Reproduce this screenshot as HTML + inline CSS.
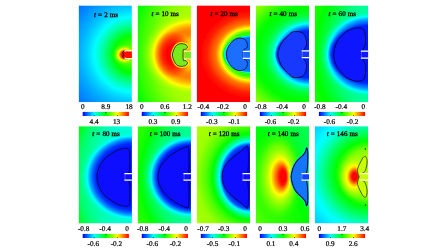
<!DOCTYPE html>
<html><head><meta charset="utf-8"><title>figure</title>
<style>
html,body{margin:0;padding:0;background:#fff;}
body{width:448px;height:252px;overflow:hidden;}
svg{display:block;}
text{text-rendering:geometricPrecision;}
.t{font-family:"Liberation Serif",serif;font-size:7.05px;word-spacing:0.3px;fill:#000;stroke:#000;stroke-width:0.3px;}
.l{font-family:"Liberation Serif",serif;font-size:7.25px;fill:#000;stroke:#000;stroke-width:0.22px;}
</style></head><body>
<svg width="448" height="252" viewBox="0 0 448 252">
<defs>
<filter id="soft" x="0" y="0" width="448" height="252" filterUnits="userSpaceOnUse"><feGaussianBlur stdDeviation="0.4"/></filter>
<clipPath id="c0"><rect x="78.60" y="5.40" width="53.30" height="96.80"/></clipPath>
<radialGradient id="g1" gradientUnits="userSpaceOnUse" cx="0" cy="0" fx="0.00" fy="0" r="85.00" gradientTransform="translate(131.90 54.30) rotate(0.00) scale(1.0000 1.0000)"><stop offset="0.0000" stop-color="#66ff00"/><stop offset="0.0208" stop-color="#61ff00"/><stop offset="0.0417" stop-color="#5dff00"/><stop offset="0.0625" stop-color="#58ff00"/><stop offset="0.0833" stop-color="#54ff00"/><stop offset="0.0941" stop-color="#52ff00"/><stop offset="0.1042" stop-color="#4bff00"/><stop offset="0.1250" stop-color="#3cff00"/><stop offset="0.1458" stop-color="#2eff00"/><stop offset="0.1529" stop-color="#29ff00"/><stop offset="0.1667" stop-color="#20ff00"/><stop offset="0.1875" stop-color="#13ff00"/><stop offset="0.2083" stop-color="#06ff00"/><stop offset="0.2176" stop-color="#00ff00"/><stop offset="0.2292" stop-color="#00ff11"/><stop offset="0.2500" stop-color="#00ff30"/><stop offset="0.2588" stop-color="#00ff3d"/><stop offset="0.2708" stop-color="#00ff4b"/><stop offset="0.2917" stop-color="#00ff62"/><stop offset="0.3125" stop-color="#00ff7a"/><stop offset="0.3176" stop-color="#00ff80"/><stop offset="0.3333" stop-color="#00ff91"/><stop offset="0.3542" stop-color="#00ffa9"/><stop offset="0.3750" stop-color="#00ffc0"/><stop offset="0.3765" stop-color="#00ffc2"/><stop offset="0.3958" stop-color="#00ffd4"/><stop offset="0.4167" stop-color="#00ffe8"/><stop offset="0.4375" stop-color="#00fffc"/><stop offset="0.4412" stop-color="#00ffff"/><stop offset="0.4583" stop-color="#00f6ff"/><stop offset="0.4792" stop-color="#00ebff"/><stop offset="0.5000" stop-color="#00e0ff"/><stop offset="0.5208" stop-color="#00d6ff"/><stop offset="0.5294" stop-color="#00d1ff"/><stop offset="0.5417" stop-color="#00ccff"/><stop offset="0.5625" stop-color="#00c4ff"/><stop offset="0.5833" stop-color="#00bcff"/><stop offset="0.6042" stop-color="#00b4ff"/><stop offset="0.6250" stop-color="#00acff"/><stop offset="0.6282" stop-color="#00aaff"/><stop offset="0.6458" stop-color="#00a6ff"/><stop offset="0.6667" stop-color="#00a0ff"/><stop offset="0.6875" stop-color="#009aff"/><stop offset="0.7083" stop-color="#0095ff"/><stop offset="0.7292" stop-color="#008fff"/><stop offset="0.7294" stop-color="#008fff"/><stop offset="0.7500" stop-color="#0089ff"/><stop offset="0.7708" stop-color="#0084ff"/><stop offset="0.7917" stop-color="#007fff"/><stop offset="0.8125" stop-color="#0079ff"/><stop offset="0.8333" stop-color="#0074ff"/><stop offset="0.8471" stop-color="#0070ff"/><stop offset="0.8542" stop-color="#006fff"/><stop offset="0.8750" stop-color="#006cff"/><stop offset="0.8958" stop-color="#006aff"/><stop offset="0.9167" stop-color="#0067ff"/><stop offset="0.9375" stop-color="#0064ff"/><stop offset="0.9583" stop-color="#0061ff"/><stop offset="0.9792" stop-color="#005fff"/><stop offset="1.0000" stop-color="#005cff"/></radialGradient>
<radialGradient id="g2" gradientUnits="userSpaceOnUse" cx="0" cy="0" fx="0.00" fy="0" r="11.00" gradientTransform="translate(124.70 54.70) rotate(0.00) scale(1.1500 1.0000)"><stop offset="0.0000" stop-color="#ff0000" stop-opacity="1.000"/><stop offset="0.0208" stop-color="#ff0000" stop-opacity="1.000"/><stop offset="0.0417" stop-color="#ff0000" stop-opacity="1.000"/><stop offset="0.0625" stop-color="#ff0000" stop-opacity="1.000"/><stop offset="0.0833" stop-color="#ff0000" stop-opacity="1.000"/><stop offset="0.1042" stop-color="#ff0000" stop-opacity="1.000"/><stop offset="0.1250" stop-color="#ff0000" stop-opacity="1.000"/><stop offset="0.1458" stop-color="#ff0000" stop-opacity="1.000"/><stop offset="0.1667" stop-color="#ff0000" stop-opacity="1.000"/><stop offset="0.1875" stop-color="#ff0000" stop-opacity="1.000"/><stop offset="0.2083" stop-color="#ff0000" stop-opacity="1.000"/><stop offset="0.2273" stop-color="#ff0000" stop-opacity="1.000"/><stop offset="0.2292" stop-color="#ff0100" stop-opacity="1.000"/><stop offset="0.2500" stop-color="#ff1100" stop-opacity="1.000"/><stop offset="0.2708" stop-color="#ff2100" stop-opacity="1.000"/><stop offset="0.2917" stop-color="#ff3000" stop-opacity="1.000"/><stop offset="0.3125" stop-color="#ff4000" stop-opacity="1.000"/><stop offset="0.3333" stop-color="#ff4f00" stop-opacity="1.000"/><stop offset="0.3542" stop-color="#ff5f00" stop-opacity="1.000"/><stop offset="0.3636" stop-color="#ff6600" stop-opacity="1.000"/><stop offset="0.3750" stop-color="#ff7200" stop-opacity="1.000"/><stop offset="0.3958" stop-color="#ff8800" stop-opacity="1.000"/><stop offset="0.4167" stop-color="#ff9e00" stop-opacity="1.000"/><stop offset="0.4375" stop-color="#ffb400" stop-opacity="1.000"/><stop offset="0.4583" stop-color="#ffca00" stop-opacity="1.000"/><stop offset="0.4792" stop-color="#ffe000" stop-opacity="1.000"/><stop offset="0.5000" stop-color="#fff500" stop-opacity="1.000"/><stop offset="0.5091" stop-color="#ffff00" stop-opacity="1.000"/><stop offset="0.5208" stop-color="#f9ff00" stop-opacity="1.000"/><stop offset="0.5417" stop-color="#eeff00" stop-opacity="1.000"/><stop offset="0.5625" stop-color="#e4ff00" stop-opacity="1.000"/><stop offset="0.5833" stop-color="#d9ff00" stop-opacity="1.000"/><stop offset="0.6042" stop-color="#ceff00" stop-opacity="0.968"/><stop offset="0.6250" stop-color="#c3ff00" stop-opacity="0.917"/><stop offset="0.6458" stop-color="#b9ff00" stop-opacity="0.866"/><stop offset="0.6667" stop-color="#aeff00" stop-opacity="0.815"/><stop offset="0.6875" stop-color="#a3ff00" stop-opacity="0.764"/><stop offset="0.7083" stop-color="#99ff00" stop-opacity="0.713"/><stop offset="0.7273" stop-color="#8fff00" stop-opacity="0.667"/><stop offset="0.7292" stop-color="#8eff00" stop-opacity="0.662"/><stop offset="0.7500" stop-color="#89ff00" stop-opacity="0.611"/><stop offset="0.7708" stop-color="#83ff00" stop-opacity="0.560"/><stop offset="0.7917" stop-color="#7eff00" stop-opacity="0.509"/><stop offset="0.8125" stop-color="#78ff00" stop-opacity="0.458"/><stop offset="0.8333" stop-color="#73ff00" stop-opacity="0.407"/><stop offset="0.8542" stop-color="#6eff00" stop-opacity="0.356"/><stop offset="0.8750" stop-color="#68ff00" stop-opacity="0.306"/><stop offset="0.8958" stop-color="#63ff00" stop-opacity="0.255"/><stop offset="0.9167" stop-color="#5dff00" stop-opacity="0.204"/><stop offset="0.9375" stop-color="#58ff00" stop-opacity="0.153"/><stop offset="0.9583" stop-color="#52ff00" stop-opacity="0.102"/><stop offset="0.9792" stop-color="#4dff00" stop-opacity="0.051"/><stop offset="1.0000" stop-color="#47ff00" stop-opacity="0.000"/></radialGradient>
<clipPath id="c1"><rect x="137.65" y="5.40" width="53.30" height="96.80"/></clipPath>
<radialGradient id="g3" gradientUnits="userSpaceOnUse" cx="0" cy="0" fx="0.00" fy="0" r="90.00" gradientTransform="translate(190.95 54.30) rotate(0.00) scale(1.0000 1.5000)"><stop offset="0.0000" stop-color="#ffcc00"/><stop offset="0.0208" stop-color="#ffd300"/><stop offset="0.0417" stop-color="#ffda00"/><stop offset="0.0625" stop-color="#ffe100"/><stop offset="0.0833" stop-color="#ffe800"/><stop offset="0.1042" stop-color="#ffef00"/><stop offset="0.1250" stop-color="#fff600"/><stop offset="0.1458" stop-color="#fffd00"/><stop offset="0.1667" stop-color="#faff00"/><stop offset="0.1875" stop-color="#f3ff00"/><stop offset="0.2083" stop-color="#ecff00"/><stop offset="0.2292" stop-color="#e5ff00"/><stop offset="0.2444" stop-color="#e0ff00"/><stop offset="0.2500" stop-color="#dbff00"/><stop offset="0.2708" stop-color="#c8ff00"/><stop offset="0.2889" stop-color="#b8ff00"/><stop offset="0.2917" stop-color="#b7ff00"/><stop offset="0.3125" stop-color="#afff00"/><stop offset="0.3333" stop-color="#a7ff00"/><stop offset="0.3542" stop-color="#9fff00"/><stop offset="0.3556" stop-color="#9eff00"/><stop offset="0.3750" stop-color="#94ff00"/><stop offset="0.3958" stop-color="#89ff00"/><stop offset="0.4167" stop-color="#7fff00"/><stop offset="0.4375" stop-color="#74ff00"/><stop offset="0.4444" stop-color="#70ff00"/><stop offset="0.4583" stop-color="#69ff00"/><stop offset="0.4792" stop-color="#5eff00"/><stop offset="0.5000" stop-color="#52ff00"/><stop offset="0.5111" stop-color="#4cff00"/><stop offset="0.5208" stop-color="#48ff00"/><stop offset="0.5417" stop-color="#3eff00"/><stop offset="0.5625" stop-color="#35ff00"/><stop offset="0.5833" stop-color="#2bff00"/><stop offset="0.5889" stop-color="#29ff00"/><stop offset="0.6042" stop-color="#21ff00"/><stop offset="0.6250" stop-color="#16ff00"/><stop offset="0.6458" stop-color="#0cff00"/><stop offset="0.6667" stop-color="#01ff00"/><stop offset="0.6875" stop-color="#00ff09"/><stop offset="0.6889" stop-color="#00ff0a"/><stop offset="0.7083" stop-color="#00ff0e"/><stop offset="0.7292" stop-color="#00ff13"/><stop offset="0.7500" stop-color="#00ff17"/><stop offset="0.7708" stop-color="#00ff1c"/><stop offset="0.7917" stop-color="#00ff20"/><stop offset="0.8125" stop-color="#00ff24"/><stop offset="0.8333" stop-color="#00ff29"/><stop offset="0.8542" stop-color="#00ff2b"/><stop offset="0.8750" stop-color="#00ff2e"/><stop offset="0.8958" stop-color="#00ff30"/><stop offset="0.9167" stop-color="#00ff33"/><stop offset="0.9375" stop-color="#00ff36"/><stop offset="0.9583" stop-color="#00ff38"/><stop offset="0.9792" stop-color="#00ff3b"/><stop offset="1.0000" stop-color="#00ff3d"/></radialGradient>
<radialGradient id="g4" gradientUnits="userSpaceOnUse" cx="0" cy="0" fx="0.00" fy="0" r="50.00" gradientTransform="translate(190.95 54.30) rotate(0.00) scale(1.0000 0.8700)"><stop offset="0.0000" stop-color="#ffe000" stop-opacity="1.000"/><stop offset="0.0208" stop-color="#ffe000" stop-opacity="1.000"/><stop offset="0.0417" stop-color="#ffdf00" stop-opacity="1.000"/><stop offset="0.0625" stop-color="#ffde00" stop-opacity="1.000"/><stop offset="0.0833" stop-color="#ffdd00" stop-opacity="1.000"/><stop offset="0.1042" stop-color="#ffdc00" stop-opacity="1.000"/><stop offset="0.1250" stop-color="#ffdb00" stop-opacity="1.000"/><stop offset="0.1458" stop-color="#ffda00" stop-opacity="1.000"/><stop offset="0.1667" stop-color="#ffd900" stop-opacity="1.000"/><stop offset="0.1875" stop-color="#ffd800" stop-opacity="1.000"/><stop offset="0.2083" stop-color="#ffd800" stop-opacity="1.000"/><stop offset="0.2292" stop-color="#ffd700" stop-opacity="1.000"/><stop offset="0.2400" stop-color="#ffd600" stop-opacity="1.000"/><stop offset="0.2500" stop-color="#ffd300" stop-opacity="1.000"/><stop offset="0.2708" stop-color="#ffcd00" stop-opacity="1.000"/><stop offset="0.2917" stop-color="#ffc600" stop-opacity="1.000"/><stop offset="0.3125" stop-color="#ffc000" stop-opacity="1.000"/><stop offset="0.3333" stop-color="#ffba00" stop-opacity="1.000"/><stop offset="0.3400" stop-color="#ffb800" stop-opacity="1.000"/><stop offset="0.3542" stop-color="#ffb000" stop-opacity="1.000"/><stop offset="0.3750" stop-color="#ffa600" stop-opacity="1.000"/><stop offset="0.3958" stop-color="#ff9b00" stop-opacity="1.000"/><stop offset="0.4167" stop-color="#ff9100" stop-opacity="1.000"/><stop offset="0.4375" stop-color="#ff8600" stop-opacity="1.000"/><stop offset="0.4400" stop-color="#ff8500" stop-opacity="1.000"/><stop offset="0.4583" stop-color="#ff8400" stop-opacity="1.000"/><stop offset="0.4792" stop-color="#ff8300" stop-opacity="1.000"/><stop offset="0.5000" stop-color="#ff8200" stop-opacity="1.000"/><stop offset="0.5208" stop-color="#ff8000" stop-opacity="1.000"/><stop offset="0.5400" stop-color="#ff8000" stop-opacity="1.000"/><stop offset="0.5417" stop-color="#ff8000" stop-opacity="1.000"/><stop offset="0.5625" stop-color="#ff8a00" stop-opacity="1.000"/><stop offset="0.5833" stop-color="#ff9300" stop-opacity="1.000"/><stop offset="0.6042" stop-color="#ff9c00" stop-opacity="1.000"/><stop offset="0.6200" stop-color="#ffa300" stop-opacity="1.000"/><stop offset="0.6250" stop-color="#ffa700" stop-opacity="1.000"/><stop offset="0.6458" stop-color="#ffb500" stop-opacity="1.000"/><stop offset="0.6667" stop-color="#ffc300" stop-opacity="1.000"/><stop offset="0.6800" stop-color="#ffcc00" stop-opacity="1.000"/><stop offset="0.6875" stop-color="#ffd100" stop-opacity="1.000"/><stop offset="0.7083" stop-color="#ffe100" stop-opacity="1.000"/><stop offset="0.7292" stop-color="#fff000" stop-opacity="1.000"/><stop offset="0.7500" stop-color="#ffff00" stop-opacity="1.000"/><stop offset="0.7708" stop-color="#eeff00" stop-opacity="0.917"/><stop offset="0.7917" stop-color="#deff00" stop-opacity="0.833"/><stop offset="0.8125" stop-color="#cdff00" stop-opacity="0.750"/><stop offset="0.8333" stop-color="#bdff00" stop-opacity="0.667"/><stop offset="0.8400" stop-color="#b8ff00" stop-opacity="0.640"/><stop offset="0.8542" stop-color="#b0ff00" stop-opacity="0.583"/><stop offset="0.8750" stop-color="#a6ff00" stop-opacity="0.500"/><stop offset="0.8958" stop-color="#9bff00" stop-opacity="0.417"/><stop offset="0.9167" stop-color="#90ff00" stop-opacity="0.333"/><stop offset="0.9375" stop-color="#86ff00" stop-opacity="0.250"/><stop offset="0.9583" stop-color="#7bff00" stop-opacity="0.167"/><stop offset="0.9792" stop-color="#71ff00" stop-opacity="0.083"/><stop offset="1.0000" stop-color="#66ff00" stop-opacity="0.000"/></radialGradient>
<radialGradient id="g5" gradientUnits="userSpaceOnUse" cx="0" cy="0" fx="0.00" fy="0" r="17.00" gradientTransform="translate(172.95 54.30) rotate(0.00) scale(1.1000 1.4000)"><stop offset="0.0000" stop-color="#ff0000" stop-opacity="1.000"/><stop offset="0.0208" stop-color="#ff0000" stop-opacity="1.000"/><stop offset="0.0417" stop-color="#ff0000" stop-opacity="1.000"/><stop offset="0.0625" stop-color="#ff0000" stop-opacity="1.000"/><stop offset="0.0833" stop-color="#ff0000" stop-opacity="1.000"/><stop offset="0.1042" stop-color="#ff0000" stop-opacity="1.000"/><stop offset="0.1250" stop-color="#ff0000" stop-opacity="1.000"/><stop offset="0.1458" stop-color="#ff0000" stop-opacity="1.000"/><stop offset="0.1667" stop-color="#ff0000" stop-opacity="1.000"/><stop offset="0.1875" stop-color="#ff0000" stop-opacity="1.000"/><stop offset="0.2083" stop-color="#ff0000" stop-opacity="1.000"/><stop offset="0.2292" stop-color="#ff0000" stop-opacity="1.000"/><stop offset="0.2500" stop-color="#ff0000" stop-opacity="1.000"/><stop offset="0.2708" stop-color="#ff0000" stop-opacity="1.000"/><stop offset="0.2917" stop-color="#ff0000" stop-opacity="1.000"/><stop offset="0.3125" stop-color="#ff0000" stop-opacity="1.000"/><stop offset="0.3333" stop-color="#ff0000" stop-opacity="1.000"/><stop offset="0.3542" stop-color="#ff0000" stop-opacity="0.998"/><stop offset="0.3750" stop-color="#ff0000" stop-opacity="0.972"/><stop offset="0.3958" stop-color="#ff0000" stop-opacity="0.945"/><stop offset="0.4167" stop-color="#ff0000" stop-opacity="0.919"/><stop offset="0.4375" stop-color="#ff0000" stop-opacity="0.892"/><stop offset="0.4583" stop-color="#ff0000" stop-opacity="0.866"/><stop offset="0.4792" stop-color="#ff0000" stop-opacity="0.839"/><stop offset="0.5000" stop-color="#ff0000" stop-opacity="0.812"/><stop offset="0.5208" stop-color="#ff0000" stop-opacity="0.786"/><stop offset="0.5417" stop-color="#ff0000" stop-opacity="0.759"/><stop offset="0.5625" stop-color="#ff0000" stop-opacity="0.733"/><stop offset="0.5833" stop-color="#ff0000" stop-opacity="0.706"/><stop offset="0.6042" stop-color="#ff0000" stop-opacity="0.673"/><stop offset="0.6250" stop-color="#ff0000" stop-opacity="0.637"/><stop offset="0.6458" stop-color="#ff0000" stop-opacity="0.602"/><stop offset="0.6667" stop-color="#ff0000" stop-opacity="0.567"/><stop offset="0.6875" stop-color="#ff0000" stop-opacity="0.531"/><stop offset="0.7083" stop-color="#ff0000" stop-opacity="0.496"/><stop offset="0.7292" stop-color="#ff0000" stop-opacity="0.460"/><stop offset="0.7500" stop-color="#ff0000" stop-opacity="0.425"/><stop offset="0.7708" stop-color="#ff0000" stop-opacity="0.390"/><stop offset="0.7917" stop-color="#ff0000" stop-opacity="0.354"/><stop offset="0.8125" stop-color="#ff0000" stop-opacity="0.319"/><stop offset="0.8333" stop-color="#ff0000" stop-opacity="0.283"/><stop offset="0.8542" stop-color="#ff0000" stop-opacity="0.248"/><stop offset="0.8750" stop-color="#ff0000" stop-opacity="0.213"/><stop offset="0.8958" stop-color="#ff0000" stop-opacity="0.177"/><stop offset="0.9167" stop-color="#ff0000" stop-opacity="0.142"/><stop offset="0.9375" stop-color="#ff0000" stop-opacity="0.106"/><stop offset="0.9583" stop-color="#ff0000" stop-opacity="0.071"/><stop offset="0.9792" stop-color="#ff0000" stop-opacity="0.035"/><stop offset="1.0000" stop-color="#ff0000" stop-opacity="0.000"/></radialGradient>
<clipPath id="c2"><rect x="196.70" y="5.40" width="53.30" height="96.80"/></clipPath>
<radialGradient id="g6" gradientUnits="userSpaceOnUse" cx="0" cy="0" fx="0.00" fy="0" r="90.00" gradientTransform="translate(250.00 54.30) rotate(0.00) scale(1.0000 0.8860)"><stop offset="0.0000" stop-color="#00ff00"/><stop offset="0.0208" stop-color="#00ff00"/><stop offset="0.0417" stop-color="#00ff00"/><stop offset="0.0625" stop-color="#00ff00"/><stop offset="0.0833" stop-color="#00ff00"/><stop offset="0.1042" stop-color="#00ff00"/><stop offset="0.1250" stop-color="#00ff00"/><stop offset="0.1458" stop-color="#00ff00"/><stop offset="0.1667" stop-color="#00ff00"/><stop offset="0.1875" stop-color="#00ff00"/><stop offset="0.2083" stop-color="#00ff00"/><stop offset="0.2292" stop-color="#00ff00"/><stop offset="0.2444" stop-color="#00ff00"/><stop offset="0.2500" stop-color="#0aff00"/><stop offset="0.2708" stop-color="#30ff00"/><stop offset="0.2722" stop-color="#33ff00"/><stop offset="0.2917" stop-color="#7aff00"/><stop offset="0.3000" stop-color="#99ff00"/><stop offset="0.3125" stop-color="#cdff00"/><stop offset="0.3244" stop-color="#ffff00"/><stop offset="0.3333" stop-color="#ffe900"/><stop offset="0.3542" stop-color="#ffb500"/><stop offset="0.3750" stop-color="#ff8100"/><stop offset="0.3778" stop-color="#ff7a00"/><stop offset="0.3958" stop-color="#ff6a00"/><stop offset="0.4167" stop-color="#ff5700"/><stop offset="0.4375" stop-color="#ff4400"/><stop offset="0.4583" stop-color="#ff3000"/><stop offset="0.4778" stop-color="#ff1f00"/><stop offset="0.4792" stop-color="#ff1e00"/><stop offset="0.5000" stop-color="#ff1600"/><stop offset="0.5208" stop-color="#ff0e00"/><stop offset="0.5417" stop-color="#ff0500"/><stop offset="0.5556" stop-color="#ff0000"/><stop offset="0.5625" stop-color="#ff0000"/><stop offset="0.5833" stop-color="#ff0000"/><stop offset="0.6042" stop-color="#ff0000"/><stop offset="0.6250" stop-color="#ff0000"/><stop offset="0.6458" stop-color="#ff0000"/><stop offset="0.6667" stop-color="#ff0000"/><stop offset="0.6875" stop-color="#ff0000"/><stop offset="0.7083" stop-color="#ff0000"/><stop offset="0.7292" stop-color="#ff0000"/><stop offset="0.7500" stop-color="#ff0000"/><stop offset="0.7708" stop-color="#ff0000"/><stop offset="0.7917" stop-color="#ff0000"/><stop offset="0.8125" stop-color="#ff0000"/><stop offset="0.8333" stop-color="#ff0000"/><stop offset="0.8542" stop-color="#ff0000"/><stop offset="0.8750" stop-color="#ff0000"/><stop offset="0.8958" stop-color="#ff0000"/><stop offset="0.9167" stop-color="#ff0000"/><stop offset="0.9375" stop-color="#ff0000"/><stop offset="0.9583" stop-color="#ff0000"/><stop offset="0.9792" stop-color="#ff0000"/><stop offset="1.0000" stop-color="#ff0000"/></radialGradient>
<radialGradient id="g7" gradientUnits="userSpaceOnUse" cx="0" cy="0" fx="0.00" fy="0" r="28.50" gradientTransform="translate(250.00 54.30) rotate(0.00) scale(1.0000 0.7200)"><stop offset="0.0000" stop-color="#0066ff" stop-opacity="1.000"/><stop offset="0.0208" stop-color="#0067ff" stop-opacity="1.000"/><stop offset="0.0417" stop-color="#0067ff" stop-opacity="1.000"/><stop offset="0.0625" stop-color="#0068ff" stop-opacity="1.000"/><stop offset="0.0833" stop-color="#0068ff" stop-opacity="1.000"/><stop offset="0.1042" stop-color="#0069ff" stop-opacity="1.000"/><stop offset="0.1250" stop-color="#0069ff" stop-opacity="1.000"/><stop offset="0.1458" stop-color="#006aff" stop-opacity="1.000"/><stop offset="0.1667" stop-color="#006aff" stop-opacity="1.000"/><stop offset="0.1875" stop-color="#006bff" stop-opacity="1.000"/><stop offset="0.2083" stop-color="#006bff" stop-opacity="1.000"/><stop offset="0.2292" stop-color="#006cff" stop-opacity="1.000"/><stop offset="0.2500" stop-color="#006cff" stop-opacity="1.000"/><stop offset="0.2708" stop-color="#006dff" stop-opacity="1.000"/><stop offset="0.2917" stop-color="#006dff" stop-opacity="1.000"/><stop offset="0.3125" stop-color="#006eff" stop-opacity="1.000"/><stop offset="0.3333" stop-color="#006eff" stop-opacity="1.000"/><stop offset="0.3542" stop-color="#006fff" stop-opacity="1.000"/><stop offset="0.3750" stop-color="#006fff" stop-opacity="1.000"/><stop offset="0.3958" stop-color="#0070ff" stop-opacity="1.000"/><stop offset="0.4167" stop-color="#0070ff" stop-opacity="1.000"/><stop offset="0.4375" stop-color="#0071ff" stop-opacity="1.000"/><stop offset="0.4583" stop-color="#0071ff" stop-opacity="1.000"/><stop offset="0.4792" stop-color="#0072ff" stop-opacity="1.000"/><stop offset="0.5000" stop-color="#0072ff" stop-opacity="1.000"/><stop offset="0.5208" stop-color="#0073ff" stop-opacity="1.000"/><stop offset="0.5417" stop-color="#0073ff" stop-opacity="1.000"/><stop offset="0.5625" stop-color="#0074ff" stop-opacity="1.000"/><stop offset="0.5833" stop-color="#0074ff" stop-opacity="1.000"/><stop offset="0.6042" stop-color="#0075ff" stop-opacity="1.000"/><stop offset="0.6250" stop-color="#0075ff" stop-opacity="1.000"/><stop offset="0.6458" stop-color="#0076ff" stop-opacity="1.000"/><stop offset="0.6667" stop-color="#0076ff" stop-opacity="1.000"/><stop offset="0.6875" stop-color="#0077ff" stop-opacity="1.000"/><stop offset="0.7083" stop-color="#0078ff" stop-opacity="1.000"/><stop offset="0.7292" stop-color="#0078ff" stop-opacity="1.000"/><stop offset="0.7500" stop-color="#0079ff" stop-opacity="1.000"/><stop offset="0.7708" stop-color="#0079ff" stop-opacity="1.000"/><stop offset="0.7917" stop-color="#007aff" stop-opacity="1.000"/><stop offset="0.8125" stop-color="#007aff" stop-opacity="1.000"/><stop offset="0.8246" stop-color="#007aff" stop-opacity="1.000"/><stop offset="0.8333" stop-color="#008eff" stop-opacity="1.000"/><stop offset="0.8542" stop-color="#00bcff" stop-opacity="1.000"/><stop offset="0.8750" stop-color="#00ebff" stop-opacity="1.000"/><stop offset="0.8842" stop-color="#00ffff" stop-opacity="1.000"/><stop offset="0.8958" stop-color="#00ffb9" stop-opacity="1.000"/><stop offset="0.9167" stop-color="#00ff3a" stop-opacity="1.000"/><stop offset="0.9263" stop-color="#00ff00" stop-opacity="1.000"/><stop offset="0.9375" stop-color="#23ff00" stop-opacity="0.938"/><stop offset="0.9583" stop-color="#66ff00" stop-opacity="0.625"/><stop offset="0.9649" stop-color="#7aff00" stop-opacity="0.526"/><stop offset="0.9792" stop-color="#93ff00" stop-opacity="0.313"/><stop offset="1.0000" stop-color="#b8ff00" stop-opacity="0.000"/></radialGradient>
<clipPath id="c3"><rect x="255.75" y="5.40" width="53.30" height="96.80"/></clipPath>
<radialGradient id="g8" gradientUnits="userSpaceOnUse" cx="0" cy="0" fx="0.00" fy="0" r="90.00" gradientTransform="translate(309.05 54.30) rotate(0.00) scale(1.0000 0.9000)"><stop offset="0.0000" stop-color="#001fff"/><stop offset="0.0208" stop-color="#001fff"/><stop offset="0.0417" stop-color="#001fff"/><stop offset="0.0625" stop-color="#001fff"/><stop offset="0.0833" stop-color="#001fff"/><stop offset="0.1042" stop-color="#001fff"/><stop offset="0.1250" stop-color="#001fff"/><stop offset="0.1458" stop-color="#001fff"/><stop offset="0.1667" stop-color="#001fff"/><stop offset="0.1875" stop-color="#001fff"/><stop offset="0.2083" stop-color="#001fff"/><stop offset="0.2292" stop-color="#001fff"/><stop offset="0.2500" stop-color="#001fff"/><stop offset="0.2708" stop-color="#001fff"/><stop offset="0.2778" stop-color="#001fff"/><stop offset="0.2917" stop-color="#0034ff"/><stop offset="0.3111" stop-color="#0052ff"/><stop offset="0.3125" stop-color="#0055ff"/><stop offset="0.3333" stop-color="#0088ff"/><stop offset="0.3444" stop-color="#00a3ff"/><stop offset="0.3542" stop-color="#00beff"/><stop offset="0.3750" stop-color="#00f7ff"/><stop offset="0.3778" stop-color="#00ffff"/><stop offset="0.3958" stop-color="#00ffcd"/><stop offset="0.4167" stop-color="#00ff94"/><stop offset="0.4222" stop-color="#00ff85"/><stop offset="0.4375" stop-color="#00ff70"/><stop offset="0.4583" stop-color="#00ff53"/><stop offset="0.4792" stop-color="#00ff36"/><stop offset="0.4889" stop-color="#00ff29"/><stop offset="0.5000" stop-color="#00ff24"/><stop offset="0.5208" stop-color="#00ff1a"/><stop offset="0.5417" stop-color="#00ff11"/><stop offset="0.5556" stop-color="#00ff0a"/><stop offset="0.5625" stop-color="#00ff08"/><stop offset="0.5833" stop-color="#00ff02"/><stop offset="0.6042" stop-color="#05ff00"/><stop offset="0.6222" stop-color="#0aff00"/><stop offset="0.6250" stop-color="#0cff00"/><stop offset="0.6458" stop-color="#1bff00"/><stop offset="0.6667" stop-color="#2aff00"/><stop offset="0.6875" stop-color="#39ff00"/><stop offset="0.7083" stop-color="#48ff00"/><stop offset="0.7222" stop-color="#52ff00"/><stop offset="0.7292" stop-color="#56ff00"/><stop offset="0.7500" stop-color="#64ff00"/><stop offset="0.7708" stop-color="#72ff00"/><stop offset="0.7917" stop-color="#80ff00"/><stop offset="0.8125" stop-color="#8eff00"/><stop offset="0.8333" stop-color="#9cff00"/><stop offset="0.8444" stop-color="#a3ff00"/><stop offset="0.8542" stop-color="#a6ff00"/><stop offset="0.8750" stop-color="#abff00"/><stop offset="0.8958" stop-color="#b1ff00"/><stop offset="0.9167" stop-color="#b6ff00"/><stop offset="0.9375" stop-color="#bcff00"/><stop offset="0.9583" stop-color="#c1ff00"/><stop offset="0.9792" stop-color="#c7ff00"/><stop offset="1.0000" stop-color="#ccff00"/></radialGradient>
<radialGradient id="g9" gradientUnits="userSpaceOnUse" cx="0" cy="0" fx="0.00" fy="0" r="40.00" gradientTransform="translate(309.05 54.30) rotate(0.00) scale(1.0000 0.7240)"><stop offset="0.0000" stop-color="#001fff" stop-opacity="1.000"/><stop offset="0.0208" stop-color="#001fff" stop-opacity="1.000"/><stop offset="0.0417" stop-color="#001fff" stop-opacity="1.000"/><stop offset="0.0625" stop-color="#001fff" stop-opacity="1.000"/><stop offset="0.0833" stop-color="#001fff" stop-opacity="1.000"/><stop offset="0.1042" stop-color="#0020ff" stop-opacity="1.000"/><stop offset="0.1250" stop-color="#0020ff" stop-opacity="1.000"/><stop offset="0.1458" stop-color="#0020ff" stop-opacity="1.000"/><stop offset="0.1667" stop-color="#0020ff" stop-opacity="1.000"/><stop offset="0.1875" stop-color="#0021ff" stop-opacity="1.000"/><stop offset="0.2083" stop-color="#0021ff" stop-opacity="1.000"/><stop offset="0.2292" stop-color="#0021ff" stop-opacity="1.000"/><stop offset="0.2500" stop-color="#0021ff" stop-opacity="1.000"/><stop offset="0.2708" stop-color="#0021ff" stop-opacity="1.000"/><stop offset="0.2917" stop-color="#0022ff" stop-opacity="1.000"/><stop offset="0.3125" stop-color="#0022ff" stop-opacity="1.000"/><stop offset="0.3333" stop-color="#0022ff" stop-opacity="1.000"/><stop offset="0.3542" stop-color="#0022ff" stop-opacity="1.000"/><stop offset="0.3750" stop-color="#0022ff" stop-opacity="1.000"/><stop offset="0.3958" stop-color="#0023ff" stop-opacity="1.000"/><stop offset="0.4167" stop-color="#0023ff" stop-opacity="1.000"/><stop offset="0.4375" stop-color="#0023ff" stop-opacity="1.000"/><stop offset="0.4583" stop-color="#0023ff" stop-opacity="1.000"/><stop offset="0.4792" stop-color="#0023ff" stop-opacity="1.000"/><stop offset="0.5000" stop-color="#0024ff" stop-opacity="1.000"/><stop offset="0.5208" stop-color="#0024ff" stop-opacity="1.000"/><stop offset="0.5417" stop-color="#0024ff" stop-opacity="1.000"/><stop offset="0.5625" stop-color="#0024ff" stop-opacity="1.000"/><stop offset="0.5833" stop-color="#0025ff" stop-opacity="1.000"/><stop offset="0.6042" stop-color="#0025ff" stop-opacity="1.000"/><stop offset="0.6250" stop-color="#0025ff" stop-opacity="1.000"/><stop offset="0.6458" stop-color="#0025ff" stop-opacity="1.000"/><stop offset="0.6667" stop-color="#0025ff" stop-opacity="1.000"/><stop offset="0.6875" stop-color="#0026ff" stop-opacity="1.000"/><stop offset="0.7083" stop-color="#0026ff" stop-opacity="1.000"/><stop offset="0.7292" stop-color="#0026ff" stop-opacity="1.000"/><stop offset="0.7500" stop-color="#0026ff" stop-opacity="1.000"/><stop offset="0.7708" stop-color="#0026ff" stop-opacity="1.000"/><stop offset="0.7917" stop-color="#0027ff" stop-opacity="1.000"/><stop offset="0.8125" stop-color="#0027ff" stop-opacity="0.773"/><stop offset="0.8333" stop-color="#0027ff" stop-opacity="0.394"/><stop offset="0.8542" stop-color="#0027ff" stop-opacity="0.015"/><stop offset="0.8750" stop-color="#0028ff" stop-opacity="0.000"/><stop offset="0.8958" stop-color="#0028ff" stop-opacity="0.000"/><stop offset="0.9167" stop-color="#0028ff" stop-opacity="0.000"/><stop offset="0.9375" stop-color="#0028ff" stop-opacity="0.000"/><stop offset="0.9583" stop-color="#0028ff" stop-opacity="0.000"/><stop offset="0.9792" stop-color="#0029ff" stop-opacity="0.000"/><stop offset="1.0000" stop-color="#0029ff" stop-opacity="0.000"/></radialGradient>
<clipPath id="c4"><rect x="314.80" y="5.40" width="53.30" height="96.80"/></clipPath>
<radialGradient id="g10" gradientUnits="userSpaceOnUse" cx="0" cy="0" fx="0.00" fy="0" r="90.00" gradientTransform="translate(368.10 54.30) rotate(0.00) scale(1.0000 1.4000)"><stop offset="0.0000" stop-color="#00ffff"/><stop offset="0.0208" stop-color="#00fffc"/><stop offset="0.0417" stop-color="#00fff9"/><stop offset="0.0625" stop-color="#00fff5"/><stop offset="0.0833" stop-color="#00fff2"/><stop offset="0.1042" stop-color="#00ffef"/><stop offset="0.1250" stop-color="#00ffec"/><stop offset="0.1458" stop-color="#00ffe9"/><stop offset="0.1667" stop-color="#00ffe5"/><stop offset="0.1875" stop-color="#00ffe2"/><stop offset="0.2083" stop-color="#00ffdf"/><stop offset="0.2292" stop-color="#00ffdc"/><stop offset="0.2500" stop-color="#00ffd9"/><stop offset="0.2708" stop-color="#00ffd6"/><stop offset="0.2917" stop-color="#00ffd2"/><stop offset="0.3125" stop-color="#00ffcf"/><stop offset="0.3333" stop-color="#00ffcc"/><stop offset="0.3542" stop-color="#00ffb5"/><stop offset="0.3750" stop-color="#00ff9e"/><stop offset="0.3889" stop-color="#00ff8f"/><stop offset="0.3958" stop-color="#00ff89"/><stop offset="0.4167" stop-color="#00ff78"/><stop offset="0.4375" stop-color="#00ff67"/><stop offset="0.4583" stop-color="#00ff55"/><stop offset="0.4792" stop-color="#00ff44"/><stop offset="0.5000" stop-color="#00ff33"/><stop offset="0.5208" stop-color="#00ff28"/><stop offset="0.5417" stop-color="#00ff1c"/><stop offset="0.5625" stop-color="#00ff11"/><stop offset="0.5833" stop-color="#00ff05"/><stop offset="0.5933" stop-color="#00ff00"/><stop offset="0.6042" stop-color="#03ff00"/><stop offset="0.6250" stop-color="#08ff00"/><stop offset="0.6458" stop-color="#0eff00"/><stop offset="0.6667" stop-color="#13ff00"/><stop offset="0.6875" stop-color="#18ff00"/><stop offset="0.7083" stop-color="#1eff00"/><stop offset="0.7111" stop-color="#1fff00"/><stop offset="0.7292" stop-color="#21ff00"/><stop offset="0.7500" stop-color="#23ff00"/><stop offset="0.7708" stop-color="#25ff00"/><stop offset="0.7917" stop-color="#28ff00"/><stop offset="0.8125" stop-color="#2aff00"/><stop offset="0.8333" stop-color="#2dff00"/><stop offset="0.8542" stop-color="#2fff00"/><stop offset="0.8750" stop-color="#31ff00"/><stop offset="0.8889" stop-color="#33ff00"/><stop offset="0.8958" stop-color="#34ff00"/><stop offset="0.9167" stop-color="#36ff00"/><stop offset="0.9375" stop-color="#37ff00"/><stop offset="0.9583" stop-color="#39ff00"/><stop offset="0.9792" stop-color="#3bff00"/><stop offset="1.0000" stop-color="#3dff00"/></radialGradient>
<radialGradient id="g11" gradientUnits="userSpaceOnUse" cx="0" cy="0" fx="0.00" fy="0" r="51.00" gradientTransform="translate(368.10 54.30) rotate(0.00) scale(1.0000 0.9260)"><stop offset="0.0000" stop-color="#0000ff" stop-opacity="1.000"/><stop offset="0.0208" stop-color="#0001ff" stop-opacity="1.000"/><stop offset="0.0417" stop-color="#0002ff" stop-opacity="1.000"/><stop offset="0.0625" stop-color="#0002ff" stop-opacity="1.000"/><stop offset="0.0833" stop-color="#0003ff" stop-opacity="1.000"/><stop offset="0.1042" stop-color="#0004ff" stop-opacity="1.000"/><stop offset="0.1250" stop-color="#0005ff" stop-opacity="1.000"/><stop offset="0.1458" stop-color="#0005ff" stop-opacity="1.000"/><stop offset="0.1667" stop-color="#0006ff" stop-opacity="1.000"/><stop offset="0.1875" stop-color="#0007ff" stop-opacity="1.000"/><stop offset="0.2083" stop-color="#0008ff" stop-opacity="1.000"/><stop offset="0.2292" stop-color="#0008ff" stop-opacity="1.000"/><stop offset="0.2500" stop-color="#0009ff" stop-opacity="1.000"/><stop offset="0.2708" stop-color="#000aff" stop-opacity="1.000"/><stop offset="0.2917" stop-color="#000bff" stop-opacity="1.000"/><stop offset="0.3125" stop-color="#000bff" stop-opacity="1.000"/><stop offset="0.3333" stop-color="#000cff" stop-opacity="1.000"/><stop offset="0.3542" stop-color="#000dff" stop-opacity="1.000"/><stop offset="0.3750" stop-color="#000eff" stop-opacity="1.000"/><stop offset="0.3958" stop-color="#000eff" stop-opacity="1.000"/><stop offset="0.4167" stop-color="#000fff" stop-opacity="1.000"/><stop offset="0.4375" stop-color="#0010ff" stop-opacity="1.000"/><stop offset="0.4583" stop-color="#0011ff" stop-opacity="1.000"/><stop offset="0.4792" stop-color="#0011ff" stop-opacity="1.000"/><stop offset="0.5000" stop-color="#0012ff" stop-opacity="1.000"/><stop offset="0.5208" stop-color="#0013ff" stop-opacity="1.000"/><stop offset="0.5417" stop-color="#0014ff" stop-opacity="1.000"/><stop offset="0.5588" stop-color="#0014ff" stop-opacity="1.000"/><stop offset="0.5625" stop-color="#0017ff" stop-opacity="1.000"/><stop offset="0.5833" stop-color="#0025ff" stop-opacity="1.000"/><stop offset="0.6042" stop-color="#0034ff" stop-opacity="1.000"/><stop offset="0.6250" stop-color="#0042ff" stop-opacity="1.000"/><stop offset="0.6458" stop-color="#0051ff" stop-opacity="1.000"/><stop offset="0.6471" stop-color="#0052ff" stop-opacity="1.000"/><stop offset="0.6667" stop-color="#0063ff" stop-opacity="1.000"/><stop offset="0.6875" stop-color="#0075ff" stop-opacity="1.000"/><stop offset="0.7059" stop-color="#0085ff" stop-opacity="1.000"/><stop offset="0.7083" stop-color="#0088ff" stop-opacity="1.000"/><stop offset="0.7292" stop-color="#00a2ff" stop-opacity="1.000"/><stop offset="0.7500" stop-color="#00bcff" stop-opacity="1.000"/><stop offset="0.7549" stop-color="#00c2ff" stop-opacity="1.000"/><stop offset="0.7708" stop-color="#00dbff" stop-opacity="1.000"/><stop offset="0.7917" stop-color="#00fbff" stop-opacity="1.000"/><stop offset="0.7941" stop-color="#00ffff" stop-opacity="1.000"/><stop offset="0.8125" stop-color="#00ffe4" stop-opacity="0.956"/><stop offset="0.8333" stop-color="#00ffc6" stop-opacity="0.850"/><stop offset="0.8542" stop-color="#00ffa8" stop-opacity="0.744"/><stop offset="0.8750" stop-color="#00ff8a" stop-opacity="0.637"/><stop offset="0.8824" stop-color="#00ff80" stop-opacity="0.600"/><stop offset="0.8958" stop-color="#00ff74" stop-opacity="0.531"/><stop offset="0.9167" stop-color="#00ff63" stop-opacity="0.425"/><stop offset="0.9375" stop-color="#00ff52" stop-opacity="0.319"/><stop offset="0.9583" stop-color="#00ff41" stop-opacity="0.213"/><stop offset="0.9792" stop-color="#00ff30" stop-opacity="0.106"/><stop offset="1.0000" stop-color="#00ff1f" stop-opacity="0.000"/></radialGradient>
<radialGradient id="g12" gradientUnits="userSpaceOnUse" cx="0" cy="0" fx="0.00" fy="0" r="45.00" gradientTransform="translate(368.10 54.30) rotate(0.00) scale(1.0000 0.7670)"><stop offset="0.0000" stop-color="#0014ff" stop-opacity="1.000"/><stop offset="0.0208" stop-color="#0015ff" stop-opacity="1.000"/><stop offset="0.0417" stop-color="#0015ff" stop-opacity="1.000"/><stop offset="0.0625" stop-color="#0015ff" stop-opacity="1.000"/><stop offset="0.0833" stop-color="#0015ff" stop-opacity="1.000"/><stop offset="0.1042" stop-color="#0015ff" stop-opacity="1.000"/><stop offset="0.1250" stop-color="#0016ff" stop-opacity="1.000"/><stop offset="0.1458" stop-color="#0016ff" stop-opacity="1.000"/><stop offset="0.1667" stop-color="#0016ff" stop-opacity="1.000"/><stop offset="0.1875" stop-color="#0016ff" stop-opacity="1.000"/><stop offset="0.2083" stop-color="#0017ff" stop-opacity="1.000"/><stop offset="0.2292" stop-color="#0017ff" stop-opacity="1.000"/><stop offset="0.2500" stop-color="#0017ff" stop-opacity="1.000"/><stop offset="0.2708" stop-color="#0017ff" stop-opacity="1.000"/><stop offset="0.2917" stop-color="#0017ff" stop-opacity="1.000"/><stop offset="0.3125" stop-color="#0018ff" stop-opacity="1.000"/><stop offset="0.3333" stop-color="#0018ff" stop-opacity="1.000"/><stop offset="0.3542" stop-color="#0018ff" stop-opacity="1.000"/><stop offset="0.3750" stop-color="#0018ff" stop-opacity="1.000"/><stop offset="0.3958" stop-color="#0018ff" stop-opacity="1.000"/><stop offset="0.4167" stop-color="#0019ff" stop-opacity="1.000"/><stop offset="0.4375" stop-color="#0019ff" stop-opacity="1.000"/><stop offset="0.4583" stop-color="#0019ff" stop-opacity="1.000"/><stop offset="0.4792" stop-color="#0019ff" stop-opacity="1.000"/><stop offset="0.5000" stop-color="#001aff" stop-opacity="1.000"/><stop offset="0.5208" stop-color="#001aff" stop-opacity="1.000"/><stop offset="0.5417" stop-color="#001aff" stop-opacity="1.000"/><stop offset="0.5625" stop-color="#001aff" stop-opacity="1.000"/><stop offset="0.5833" stop-color="#001aff" stop-opacity="1.000"/><stop offset="0.6042" stop-color="#001bff" stop-opacity="1.000"/><stop offset="0.6250" stop-color="#001bff" stop-opacity="1.000"/><stop offset="0.6458" stop-color="#001bff" stop-opacity="1.000"/><stop offset="0.6667" stop-color="#001bff" stop-opacity="1.000"/><stop offset="0.6875" stop-color="#001bff" stop-opacity="1.000"/><stop offset="0.7083" stop-color="#001cff" stop-opacity="1.000"/><stop offset="0.7292" stop-color="#001cff" stop-opacity="1.000"/><stop offset="0.7500" stop-color="#001cff" stop-opacity="1.000"/><stop offset="0.7708" stop-color="#001cff" stop-opacity="1.000"/><stop offset="0.7917" stop-color="#001cff" stop-opacity="1.000"/><stop offset="0.8125" stop-color="#001dff" stop-opacity="0.859"/><stop offset="0.8333" stop-color="#001dff" stop-opacity="0.625"/><stop offset="0.8542" stop-color="#001dff" stop-opacity="0.391"/><stop offset="0.8750" stop-color="#001dff" stop-opacity="0.156"/><stop offset="0.8958" stop-color="#001eff" stop-opacity="0.000"/><stop offset="0.9167" stop-color="#001eff" stop-opacity="0.000"/><stop offset="0.9375" stop-color="#001eff" stop-opacity="0.000"/><stop offset="0.9583" stop-color="#001eff" stop-opacity="0.000"/><stop offset="0.9792" stop-color="#001eff" stop-opacity="0.000"/><stop offset="1.0000" stop-color="#001fff" stop-opacity="0.000"/></radialGradient>
<clipPath id="c5"><rect x="78.60" y="126.20" width="53.30" height="97.20"/></clipPath>
<radialGradient id="g13" gradientUnits="userSpaceOnUse" cx="0" cy="0" fx="0.00" fy="0" r="90.00" gradientTransform="translate(131.90 176.80) rotate(0.00) scale(1.0000 1.5000)"><stop offset="0.0000" stop-color="#00ccff"/><stop offset="0.0208" stop-color="#00ccff"/><stop offset="0.0417" stop-color="#00ccff"/><stop offset="0.0625" stop-color="#00ccff"/><stop offset="0.0833" stop-color="#00ccff"/><stop offset="0.1042" stop-color="#00ccff"/><stop offset="0.1250" stop-color="#00ccff"/><stop offset="0.1458" stop-color="#00ccff"/><stop offset="0.1667" stop-color="#00ccff"/><stop offset="0.1875" stop-color="#00ccff"/><stop offset="0.2083" stop-color="#00ccff"/><stop offset="0.2292" stop-color="#00ccff"/><stop offset="0.2500" stop-color="#00ccff"/><stop offset="0.2708" stop-color="#00ccff"/><stop offset="0.2778" stop-color="#00ccff"/><stop offset="0.2917" stop-color="#00d9ff"/><stop offset="0.3125" stop-color="#00ecff"/><stop offset="0.3333" stop-color="#00ffff"/><stop offset="0.3542" stop-color="#00ffec"/><stop offset="0.3556" stop-color="#00ffeb"/><stop offset="0.3750" stop-color="#00ffe0"/><stop offset="0.3958" stop-color="#00ffd4"/><stop offset="0.4167" stop-color="#00ffc8"/><stop offset="0.4375" stop-color="#00ffbc"/><stop offset="0.4583" stop-color="#00ffb1"/><stop offset="0.4792" stop-color="#00ffa5"/><stop offset="0.5000" stop-color="#00ff99"/><stop offset="0.5208" stop-color="#00ff8e"/><stop offset="0.5417" stop-color="#00ff82"/><stop offset="0.5625" stop-color="#00ff77"/><stop offset="0.5833" stop-color="#00ff6b"/><stop offset="0.5933" stop-color="#00ff66"/><stop offset="0.6042" stop-color="#00ff5c"/><stop offset="0.6250" stop-color="#00ff48"/><stop offset="0.6458" stop-color="#00ff34"/><stop offset="0.6667" stop-color="#00ff20"/><stop offset="0.6875" stop-color="#00ff0c"/><stop offset="0.7000" stop-color="#00ff00"/><stop offset="0.7083" stop-color="#02ff00"/><stop offset="0.7292" stop-color="#08ff00"/><stop offset="0.7500" stop-color="#0eff00"/><stop offset="0.7708" stop-color="#13ff00"/><stop offset="0.7917" stop-color="#19ff00"/><stop offset="0.8125" stop-color="#1eff00"/><stop offset="0.8333" stop-color="#24ff00"/><stop offset="0.8542" stop-color="#2aff00"/><stop offset="0.8750" stop-color="#2fff00"/><stop offset="0.8889" stop-color="#33ff00"/><stop offset="0.8958" stop-color="#34ff00"/><stop offset="0.9167" stop-color="#36ff00"/><stop offset="0.9375" stop-color="#37ff00"/><stop offset="0.9583" stop-color="#39ff00"/><stop offset="0.9792" stop-color="#3bff00"/><stop offset="1.0000" stop-color="#3dff00"/></radialGradient>
<radialGradient id="g14" gradientUnits="userSpaceOnUse" cx="0" cy="0" fx="0.00" fy="0" r="54.00" gradientTransform="translate(131.90 176.80) rotate(0.00) scale(1.0000 0.9100)"><stop offset="0.0000" stop-color="#0000ff" stop-opacity="1.000"/><stop offset="0.0208" stop-color="#0001ff" stop-opacity="1.000"/><stop offset="0.0417" stop-color="#0001ff" stop-opacity="1.000"/><stop offset="0.0625" stop-color="#0002ff" stop-opacity="1.000"/><stop offset="0.0833" stop-color="#0003ff" stop-opacity="1.000"/><stop offset="0.1042" stop-color="#0003ff" stop-opacity="1.000"/><stop offset="0.1250" stop-color="#0004ff" stop-opacity="1.000"/><stop offset="0.1458" stop-color="#0005ff" stop-opacity="1.000"/><stop offset="0.1667" stop-color="#0006ff" stop-opacity="1.000"/><stop offset="0.1875" stop-color="#0006ff" stop-opacity="1.000"/><stop offset="0.2083" stop-color="#0007ff" stop-opacity="1.000"/><stop offset="0.2292" stop-color="#0008ff" stop-opacity="1.000"/><stop offset="0.2500" stop-color="#0008ff" stop-opacity="1.000"/><stop offset="0.2708" stop-color="#0009ff" stop-opacity="1.000"/><stop offset="0.2917" stop-color="#000aff" stop-opacity="1.000"/><stop offset="0.3125" stop-color="#000aff" stop-opacity="1.000"/><stop offset="0.3333" stop-color="#000bff" stop-opacity="1.000"/><stop offset="0.3542" stop-color="#000cff" stop-opacity="1.000"/><stop offset="0.3750" stop-color="#000dff" stop-opacity="1.000"/><stop offset="0.3958" stop-color="#000dff" stop-opacity="1.000"/><stop offset="0.4167" stop-color="#000eff" stop-opacity="1.000"/><stop offset="0.4375" stop-color="#000fff" stop-opacity="1.000"/><stop offset="0.4583" stop-color="#000fff" stop-opacity="1.000"/><stop offset="0.4792" stop-color="#0010ff" stop-opacity="1.000"/><stop offset="0.5000" stop-color="#0011ff" stop-opacity="1.000"/><stop offset="0.5208" stop-color="#0011ff" stop-opacity="1.000"/><stop offset="0.5417" stop-color="#0012ff" stop-opacity="1.000"/><stop offset="0.5625" stop-color="#0013ff" stop-opacity="1.000"/><stop offset="0.5833" stop-color="#0013ff" stop-opacity="1.000"/><stop offset="0.6042" stop-color="#0014ff" stop-opacity="1.000"/><stop offset="0.6111" stop-color="#0014ff" stop-opacity="1.000"/><stop offset="0.6250" stop-color="#001aff" stop-opacity="1.000"/><stop offset="0.6458" stop-color="#0023ff" stop-opacity="1.000"/><stop offset="0.6667" stop-color="#002bff" stop-opacity="1.000"/><stop offset="0.6852" stop-color="#0033ff" stop-opacity="1.000"/><stop offset="0.6875" stop-color="#0036ff" stop-opacity="1.000"/><stop offset="0.7083" stop-color="#004dff" stop-opacity="1.000"/><stop offset="0.7292" stop-color="#0063ff" stop-opacity="1.000"/><stop offset="0.7315" stop-color="#0066ff" stop-opacity="1.000"/><stop offset="0.7500" stop-color="#007eff" stop-opacity="1.000"/><stop offset="0.7708" stop-color="#009aff" stop-opacity="1.000"/><stop offset="0.7778" stop-color="#00a3ff" stop-opacity="1.000"/><stop offset="0.7917" stop-color="#00bcff" stop-opacity="1.000"/><stop offset="0.8125" stop-color="#00e1ff" stop-opacity="1.000"/><stop offset="0.8296" stop-color="#00ffff" stop-opacity="1.000"/><stop offset="0.8333" stop-color="#00fffb" stop-opacity="1.000"/><stop offset="0.8542" stop-color="#00ffe5" stop-opacity="0.926"/><stop offset="0.8750" stop-color="#00ffcf" stop-opacity="0.794"/><stop offset="0.8958" stop-color="#00ffba" stop-opacity="0.662"/><stop offset="0.9074" stop-color="#00ffad" stop-opacity="0.588"/><stop offset="0.9167" stop-color="#00ffa6" stop-opacity="0.529"/><stop offset="0.9375" stop-color="#00ff96" stop-opacity="0.397"/><stop offset="0.9583" stop-color="#00ff86" stop-opacity="0.265"/><stop offset="0.9792" stop-color="#00ff76" stop-opacity="0.132"/><stop offset="1.0000" stop-color="#00ff66" stop-opacity="0.000"/></radialGradient>
<clipPath id="c6"><rect x="137.65" y="126.20" width="53.30" height="97.20"/></clipPath>
<radialGradient id="g15" gradientUnits="userSpaceOnUse" cx="0" cy="0" fx="0.00" fy="0" r="90.00" gradientTransform="translate(190.95 176.80) rotate(0.00) scale(1.0000 1.4000)"><stop offset="0.0000" stop-color="#00ffff"/><stop offset="0.0208" stop-color="#00fffd"/><stop offset="0.0417" stop-color="#00fffc"/><stop offset="0.0625" stop-color="#00fffa"/><stop offset="0.0833" stop-color="#00fff9"/><stop offset="0.1042" stop-color="#00fff7"/><stop offset="0.1250" stop-color="#00fff6"/><stop offset="0.1458" stop-color="#00fff4"/><stop offset="0.1667" stop-color="#00fff3"/><stop offset="0.1875" stop-color="#00fff1"/><stop offset="0.2083" stop-color="#00fff0"/><stop offset="0.2292" stop-color="#00ffee"/><stop offset="0.2500" stop-color="#00ffed"/><stop offset="0.2708" stop-color="#00ffeb"/><stop offset="0.2778" stop-color="#00ffeb"/><stop offset="0.2917" stop-color="#00ffdf"/><stop offset="0.3125" stop-color="#00ffce"/><stop offset="0.3333" stop-color="#00ffbd"/><stop offset="0.3542" stop-color="#00ffac"/><stop offset="0.3750" stop-color="#00ff9b"/><stop offset="0.3833" stop-color="#00ff94"/><stop offset="0.3958" stop-color="#00ff8a"/><stop offset="0.4167" stop-color="#00ff78"/><stop offset="0.4375" stop-color="#00ff67"/><stop offset="0.4583" stop-color="#00ff56"/><stop offset="0.4792" stop-color="#00ff44"/><stop offset="0.5000" stop-color="#00ff33"/><stop offset="0.5208" stop-color="#00ff23"/><stop offset="0.5417" stop-color="#00ff13"/><stop offset="0.5625" stop-color="#00ff03"/><stop offset="0.5833" stop-color="#0dff00"/><stop offset="0.5933" stop-color="#14ff00"/><stop offset="0.6042" stop-color="#17ff00"/><stop offset="0.6250" stop-color="#1dff00"/><stop offset="0.6458" stop-color="#22ff00"/><stop offset="0.6667" stop-color="#27ff00"/><stop offset="0.6875" stop-color="#2dff00"/><stop offset="0.7083" stop-color="#32ff00"/><stop offset="0.7111" stop-color="#33ff00"/><stop offset="0.7292" stop-color="#36ff00"/><stop offset="0.7500" stop-color="#3aff00"/><stop offset="0.7708" stop-color="#3dff00"/><stop offset="0.7917" stop-color="#41ff00"/><stop offset="0.8125" stop-color="#44ff00"/><stop offset="0.8333" stop-color="#48ff00"/><stop offset="0.8542" stop-color="#4cff00"/><stop offset="0.8750" stop-color="#4fff00"/><stop offset="0.8889" stop-color="#52ff00"/><stop offset="0.8958" stop-color="#52ff00"/><stop offset="0.9167" stop-color="#54ff00"/><stop offset="0.9375" stop-color="#56ff00"/><stop offset="0.9583" stop-color="#58ff00"/><stop offset="0.9792" stop-color="#5aff00"/><stop offset="1.0000" stop-color="#5cff00"/></radialGradient>
<radialGradient id="g16" gradientUnits="userSpaceOnUse" cx="0" cy="0" fx="0.00" fy="0" r="50.00" gradientTransform="translate(190.95 176.80) rotate(0.00) scale(1.0000 0.9500)"><stop offset="0.0000" stop-color="#0000ff" stop-opacity="1.000"/><stop offset="0.0208" stop-color="#0001ff" stop-opacity="1.000"/><stop offset="0.0417" stop-color="#0001ff" stop-opacity="1.000"/><stop offset="0.0625" stop-color="#0002ff" stop-opacity="1.000"/><stop offset="0.0833" stop-color="#0003ff" stop-opacity="1.000"/><stop offset="0.1042" stop-color="#0003ff" stop-opacity="1.000"/><stop offset="0.1250" stop-color="#0004ff" stop-opacity="1.000"/><stop offset="0.1458" stop-color="#0005ff" stop-opacity="1.000"/><stop offset="0.1667" stop-color="#0005ff" stop-opacity="1.000"/><stop offset="0.1875" stop-color="#0006ff" stop-opacity="1.000"/><stop offset="0.2083" stop-color="#0006ff" stop-opacity="1.000"/><stop offset="0.2292" stop-color="#0007ff" stop-opacity="1.000"/><stop offset="0.2500" stop-color="#0008ff" stop-opacity="1.000"/><stop offset="0.2708" stop-color="#0008ff" stop-opacity="1.000"/><stop offset="0.2917" stop-color="#0009ff" stop-opacity="1.000"/><stop offset="0.3125" stop-color="#000aff" stop-opacity="1.000"/><stop offset="0.3333" stop-color="#000aff" stop-opacity="1.000"/><stop offset="0.3542" stop-color="#000bff" stop-opacity="1.000"/><stop offset="0.3750" stop-color="#000cff" stop-opacity="1.000"/><stop offset="0.3958" stop-color="#000cff" stop-opacity="1.000"/><stop offset="0.4167" stop-color="#000dff" stop-opacity="1.000"/><stop offset="0.4375" stop-color="#000eff" stop-opacity="1.000"/><stop offset="0.4583" stop-color="#000eff" stop-opacity="1.000"/><stop offset="0.4792" stop-color="#000fff" stop-opacity="1.000"/><stop offset="0.5000" stop-color="#000fff" stop-opacity="1.000"/><stop offset="0.5208" stop-color="#0010ff" stop-opacity="1.000"/><stop offset="0.5417" stop-color="#0011ff" stop-opacity="1.000"/><stop offset="0.5625" stop-color="#0011ff" stop-opacity="1.000"/><stop offset="0.5833" stop-color="#0012ff" stop-opacity="1.000"/><stop offset="0.6042" stop-color="#0013ff" stop-opacity="1.000"/><stop offset="0.6250" stop-color="#0013ff" stop-opacity="1.000"/><stop offset="0.6458" stop-color="#0014ff" stop-opacity="1.000"/><stop offset="0.6600" stop-color="#0014ff" stop-opacity="1.000"/><stop offset="0.6667" stop-color="#001dff" stop-opacity="1.000"/><stop offset="0.6875" stop-color="#0036ff" stop-opacity="1.000"/><stop offset="0.7083" stop-color="#0050ff" stop-opacity="1.000"/><stop offset="0.7100" stop-color="#0052ff" stop-opacity="1.000"/><stop offset="0.7292" stop-color="#0075ff" stop-opacity="1.000"/><stop offset="0.7500" stop-color="#009bff" stop-opacity="1.000"/><stop offset="0.7600" stop-color="#00adff" stop-opacity="1.000"/><stop offset="0.7708" stop-color="#00c6ff" stop-opacity="1.000"/><stop offset="0.7917" stop-color="#00f5ff" stop-opacity="1.000"/><stop offset="0.7960" stop-color="#00ffff" stop-opacity="1.000"/><stop offset="0.8125" stop-color="#00ffe7" stop-opacity="0.987"/><stop offset="0.8333" stop-color="#00ffc9" stop-opacity="0.877"/><stop offset="0.8542" stop-color="#00ffaa" stop-opacity="0.768"/><stop offset="0.8750" stop-color="#00ff8c" stop-opacity="0.658"/><stop offset="0.8800" stop-color="#00ff85" stop-opacity="0.632"/><stop offset="0.8958" stop-color="#00ff77" stop-opacity="0.548"/><stop offset="0.9167" stop-color="#00ff65" stop-opacity="0.439"/><stop offset="0.9375" stop-color="#00ff54" stop-opacity="0.329"/><stop offset="0.9583" stop-color="#00ff42" stop-opacity="0.219"/><stop offset="0.9792" stop-color="#00ff30" stop-opacity="0.110"/><stop offset="1.0000" stop-color="#00ff1f" stop-opacity="0.000"/></radialGradient>
<clipPath id="c7"><rect x="196.70" y="126.20" width="53.30" height="97.20"/></clipPath>
<radialGradient id="g17" gradientUnits="userSpaceOnUse" cx="0" cy="0" fx="0.00" fy="0" r="90.00" gradientTransform="translate(250.00 176.80) rotate(0.00) scale(1.0000 1.1500)"><stop offset="0.0000" stop-color="#0000ff"/><stop offset="0.0208" stop-color="#0002ff"/><stop offset="0.0417" stop-color="#0003ff"/><stop offset="0.0625" stop-color="#0005ff"/><stop offset="0.0833" stop-color="#0006ff"/><stop offset="0.1042" stop-color="#0008ff"/><stop offset="0.1250" stop-color="#000aff"/><stop offset="0.1458" stop-color="#000bff"/><stop offset="0.1667" stop-color="#000dff"/><stop offset="0.1875" stop-color="#000eff"/><stop offset="0.2083" stop-color="#0010ff"/><stop offset="0.2292" stop-color="#0012ff"/><stop offset="0.2500" stop-color="#0013ff"/><stop offset="0.2667" stop-color="#0014ff"/><stop offset="0.2708" stop-color="#001aff"/><stop offset="0.2917" stop-color="#0038ff"/><stop offset="0.3100" stop-color="#0052ff"/><stop offset="0.3125" stop-color="#0060ff"/><stop offset="0.3256" stop-color="#00adff"/><stop offset="0.3333" stop-color="#00ddff"/><stop offset="0.3389" stop-color="#00ffff"/><stop offset="0.3542" stop-color="#00ffc7"/><stop offset="0.3722" stop-color="#00ff85"/><stop offset="0.3750" stop-color="#00ff7c"/><stop offset="0.3958" stop-color="#00ff3a"/><stop offset="0.4144" stop-color="#00ff00"/><stop offset="0.4167" stop-color="#02ff00"/><stop offset="0.4375" stop-color="#19ff00"/><stop offset="0.4583" stop-color="#30ff00"/><stop offset="0.4792" stop-color="#47ff00"/><stop offset="0.4889" stop-color="#52ff00"/><stop offset="0.5000" stop-color="#59ff00"/><stop offset="0.5208" stop-color="#67ff00"/><stop offset="0.5417" stop-color="#76ff00"/><stop offset="0.5625" stop-color="#84ff00"/><stop offset="0.5833" stop-color="#92ff00"/><stop offset="0.5933" stop-color="#99ff00"/><stop offset="0.6042" stop-color="#9aff00"/><stop offset="0.6250" stop-color="#9dff00"/><stop offset="0.6458" stop-color="#9fff00"/><stop offset="0.6667" stop-color="#a2ff00"/><stop offset="0.6875" stop-color="#a4ff00"/><stop offset="0.7083" stop-color="#a7ff00"/><stop offset="0.7292" stop-color="#a9ff00"/><stop offset="0.7500" stop-color="#abff00"/><stop offset="0.7667" stop-color="#adff00"/><stop offset="0.7708" stop-color="#aeff00"/><stop offset="0.7917" stop-color="#aeff00"/><stop offset="0.8125" stop-color="#afff00"/><stop offset="0.8333" stop-color="#b0ff00"/><stop offset="0.8542" stop-color="#b1ff00"/><stop offset="0.8750" stop-color="#b2ff00"/><stop offset="0.8958" stop-color="#b3ff00"/><stop offset="0.9167" stop-color="#b4ff00"/><stop offset="0.9375" stop-color="#b5ff00"/><stop offset="0.9583" stop-color="#b6ff00"/><stop offset="0.9792" stop-color="#b7ff00"/><stop offset="1.0000" stop-color="#b8ff00"/></radialGradient>
<clipPath id="c8"><rect x="255.75" y="126.20" width="53.30" height="97.20"/></clipPath>
<radialGradient id="g18" gradientUnits="userSpaceOnUse" cx="0" cy="0" fx="0.00" fy="0" r="270.00" gradientTransform="translate(109.05 276.80) rotate(0.00) scale(1.0000 1.0000)"><stop offset="0.0000" stop-color="#66ff00"/><stop offset="0.0208" stop-color="#65ff00"/><stop offset="0.0417" stop-color="#65ff00"/><stop offset="0.0625" stop-color="#64ff00"/><stop offset="0.0833" stop-color="#63ff00"/><stop offset="0.1042" stop-color="#62ff00"/><stop offset="0.1250" stop-color="#62ff00"/><stop offset="0.1458" stop-color="#61ff00"/><stop offset="0.1667" stop-color="#60ff00"/><stop offset="0.1875" stop-color="#5fff00"/><stop offset="0.2083" stop-color="#5fff00"/><stop offset="0.2292" stop-color="#5eff00"/><stop offset="0.2500" stop-color="#5dff00"/><stop offset="0.2708" stop-color="#5cff00"/><stop offset="0.2917" stop-color="#5cff00"/><stop offset="0.3125" stop-color="#5bff00"/><stop offset="0.3333" stop-color="#5aff00"/><stop offset="0.3542" stop-color="#59ff00"/><stop offset="0.3750" stop-color="#59ff00"/><stop offset="0.3958" stop-color="#58ff00"/><stop offset="0.4167" stop-color="#57ff00"/><stop offset="0.4375" stop-color="#57ff00"/><stop offset="0.4583" stop-color="#56ff00"/><stop offset="0.4792" stop-color="#55ff00"/><stop offset="0.5000" stop-color="#54ff00"/><stop offset="0.5208" stop-color="#54ff00"/><stop offset="0.5417" stop-color="#53ff00"/><stop offset="0.5625" stop-color="#52ff00"/><stop offset="0.5778" stop-color="#52ff00"/><stop offset="0.5833" stop-color="#4fff00"/><stop offset="0.6042" stop-color="#45ff00"/><stop offset="0.6250" stop-color="#3cff00"/><stop offset="0.6458" stop-color="#32ff00"/><stop offset="0.6667" stop-color="#29ff00"/><stop offset="0.6875" stop-color="#20ff00"/><stop offset="0.7083" stop-color="#16ff00"/><stop offset="0.7292" stop-color="#0dff00"/><stop offset="0.7500" stop-color="#04ff00"/><stop offset="0.7593" stop-color="#00ff00"/><stop offset="0.7708" stop-color="#00ff06"/><stop offset="0.7917" stop-color="#00ff12"/><stop offset="0.8125" stop-color="#00ff1d"/><stop offset="0.8333" stop-color="#00ff29"/><stop offset="0.8542" stop-color="#00ff34"/><stop offset="0.8750" stop-color="#00ff40"/><stop offset="0.8958" stop-color="#00ff4b"/><stop offset="0.9074" stop-color="#00ff52"/><stop offset="0.9167" stop-color="#00ff54"/><stop offset="0.9375" stop-color="#00ff58"/><stop offset="0.9583" stop-color="#00ff5d"/><stop offset="0.9792" stop-color="#00ff61"/><stop offset="1.0000" stop-color="#00ff66"/></radialGradient>
<radialGradient id="g19" gradientUnits="userSpaceOnUse" cx="0" cy="0" fx="11.60" fy="0" r="50.00" gradientTransform="translate(276.55 176.80) rotate(0.00) scale(0.5400 1.0000)"><stop offset="0.0000" stop-color="#ff1f00" stop-opacity="1.000"/><stop offset="0.0208" stop-color="#ff2300" stop-opacity="1.000"/><stop offset="0.0417" stop-color="#ff2700" stop-opacity="1.000"/><stop offset="0.0625" stop-color="#ff2b00" stop-opacity="1.000"/><stop offset="0.0833" stop-color="#ff3000" stop-opacity="1.000"/><stop offset="0.1000" stop-color="#ff3300" stop-opacity="1.000"/><stop offset="0.1042" stop-color="#ff3500" stop-opacity="1.000"/><stop offset="0.1250" stop-color="#ff4000" stop-opacity="1.000"/><stop offset="0.1458" stop-color="#ff4a00" stop-opacity="1.000"/><stop offset="0.1600" stop-color="#ff5200" stop-opacity="1.000"/><stop offset="0.1667" stop-color="#ff5600" stop-opacity="1.000"/><stop offset="0.1875" stop-color="#ff6400" stop-opacity="1.000"/><stop offset="0.2083" stop-color="#ff7200" stop-opacity="1.000"/><stop offset="0.2200" stop-color="#ff7a00" stop-opacity="1.000"/><stop offset="0.2292" stop-color="#ff8200" stop-opacity="1.000"/><stop offset="0.2500" stop-color="#ff9500" stop-opacity="1.000"/><stop offset="0.2708" stop-color="#ffa700" stop-opacity="1.000"/><stop offset="0.2900" stop-color="#ffb800" stop-opacity="1.000"/><stop offset="0.2917" stop-color="#ffb900" stop-opacity="1.000"/><stop offset="0.3125" stop-color="#ffcf00" stop-opacity="1.000"/><stop offset="0.3333" stop-color="#ffe400" stop-opacity="1.000"/><stop offset="0.3542" stop-color="#fff900" stop-opacity="1.000"/><stop offset="0.3600" stop-color="#ffff00" stop-opacity="1.000"/><stop offset="0.3750" stop-color="#f4ff00" stop-opacity="1.000"/><stop offset="0.3958" stop-color="#e5ff00" stop-opacity="1.000"/><stop offset="0.4167" stop-color="#d7ff00" stop-opacity="1.000"/><stop offset="0.4375" stop-color="#c8ff00" stop-opacity="1.000"/><stop offset="0.4583" stop-color="#b9ff00" stop-opacity="1.000"/><stop offset="0.4600" stop-color="#b8ff00" stop-opacity="1.000"/><stop offset="0.4792" stop-color="#aeff00" stop-opacity="1.000"/><stop offset="0.5000" stop-color="#a3ff00" stop-opacity="1.000"/><stop offset="0.5208" stop-color="#99ff00" stop-opacity="1.000"/><stop offset="0.5417" stop-color="#8eff00" stop-opacity="1.000"/><stop offset="0.5625" stop-color="#83ff00" stop-opacity="1.000"/><stop offset="0.5800" stop-color="#7aff00" stop-opacity="1.000"/><stop offset="0.5833" stop-color="#79ff00" stop-opacity="1.000"/><stop offset="0.6042" stop-color="#72ff00" stop-opacity="1.000"/><stop offset="0.6250" stop-color="#6bff00" stop-opacity="1.000"/><stop offset="0.6458" stop-color="#64ff00" stop-opacity="0.984"/><stop offset="0.6667" stop-color="#5dff00" stop-opacity="0.926"/><stop offset="0.6875" stop-color="#56ff00" stop-opacity="0.868"/><stop offset="0.7000" stop-color="#52ff00" stop-opacity="0.833"/><stop offset="0.7083" stop-color="#4fff00" stop-opacity="0.810"/><stop offset="0.7292" stop-color="#4aff00" stop-opacity="0.752"/><stop offset="0.7500" stop-color="#45ff00" stop-opacity="0.694"/><stop offset="0.7708" stop-color="#40ff00" stop-opacity="0.637"/><stop offset="0.7917" stop-color="#3aff00" stop-opacity="0.579"/><stop offset="0.8125" stop-color="#35ff00" stop-opacity="0.521"/><stop offset="0.8200" stop-color="#33ff00" stop-opacity="0.500"/><stop offset="0.8333" stop-color="#31ff00" stop-opacity="0.463"/><stop offset="0.8542" stop-color="#2fff00" stop-opacity="0.405"/><stop offset="0.8750" stop-color="#2dff00" stop-opacity="0.347"/><stop offset="0.8958" stop-color="#2aff00" stop-opacity="0.289"/><stop offset="0.9167" stop-color="#28ff00" stop-opacity="0.231"/><stop offset="0.9375" stop-color="#26ff00" stop-opacity="0.174"/><stop offset="0.9583" stop-color="#23ff00" stop-opacity="0.116"/><stop offset="0.9792" stop-color="#21ff00" stop-opacity="0.058"/><stop offset="1.0000" stop-color="#1fff00" stop-opacity="0.000"/></radialGradient>
<radialGradient id="g20" gradientUnits="userSpaceOnUse" cx="0" cy="0" fx="5.80" fy="0" r="15.00" gradientTransform="translate(281.50 176.80) rotate(0.00) scale(0.4800 1.0000)"><stop offset="0.0000" stop-color="#ff0000" stop-opacity="1.000"/><stop offset="0.0208" stop-color="#ff0000" stop-opacity="1.000"/><stop offset="0.0417" stop-color="#ff0000" stop-opacity="1.000"/><stop offset="0.0625" stop-color="#ff0000" stop-opacity="1.000"/><stop offset="0.0833" stop-color="#ff0000" stop-opacity="1.000"/><stop offset="0.1042" stop-color="#ff0000" stop-opacity="1.000"/><stop offset="0.1250" stop-color="#ff0000" stop-opacity="1.000"/><stop offset="0.1458" stop-color="#ff0000" stop-opacity="1.000"/><stop offset="0.1667" stop-color="#ff0000" stop-opacity="1.000"/><stop offset="0.1875" stop-color="#ff0000" stop-opacity="1.000"/><stop offset="0.2083" stop-color="#ff0000" stop-opacity="1.000"/><stop offset="0.2292" stop-color="#ff0000" stop-opacity="1.000"/><stop offset="0.2500" stop-color="#ff0000" stop-opacity="1.000"/><stop offset="0.2708" stop-color="#ff0000" stop-opacity="1.000"/><stop offset="0.2917" stop-color="#ff0000" stop-opacity="1.000"/><stop offset="0.3125" stop-color="#ff0000" stop-opacity="1.000"/><stop offset="0.3333" stop-color="#ff0000" stop-opacity="1.000"/><stop offset="0.3542" stop-color="#ff0000" stop-opacity="1.000"/><stop offset="0.3750" stop-color="#ff0000" stop-opacity="1.000"/><stop offset="0.3958" stop-color="#ff0000" stop-opacity="1.000"/><stop offset="0.4000" stop-color="#ff0000" stop-opacity="1.000"/><stop offset="0.4167" stop-color="#ff0300" stop-opacity="1.000"/><stop offset="0.4375" stop-color="#ff0800" stop-opacity="1.000"/><stop offset="0.4583" stop-color="#ff0c00" stop-opacity="1.000"/><stop offset="0.4792" stop-color="#ff1000" stop-opacity="1.000"/><stop offset="0.5000" stop-color="#ff1400" stop-opacity="1.000"/><stop offset="0.5208" stop-color="#ff1900" stop-opacity="1.000"/><stop offset="0.5417" stop-color="#ff1d00" stop-opacity="1.000"/><stop offset="0.5625" stop-color="#ff2100" stop-opacity="1.000"/><stop offset="0.5833" stop-color="#ff2500" stop-opacity="1.000"/><stop offset="0.6000" stop-color="#ff2900" stop-opacity="1.000"/><stop offset="0.6042" stop-color="#ff2a00" stop-opacity="0.990"/><stop offset="0.6250" stop-color="#ff2f00" stop-opacity="0.938"/><stop offset="0.6458" stop-color="#ff3500" stop-opacity="0.885"/><stop offset="0.6667" stop-color="#ff3a00" stop-opacity="0.833"/><stop offset="0.6875" stop-color="#ff4000" stop-opacity="0.781"/><stop offset="0.7083" stop-color="#ff4500" stop-opacity="0.729"/><stop offset="0.7292" stop-color="#ff4b00" stop-opacity="0.677"/><stop offset="0.7500" stop-color="#ff5000" stop-opacity="0.625"/><stop offset="0.7708" stop-color="#ff5600" stop-opacity="0.573"/><stop offset="0.7917" stop-color="#ff5b00" stop-opacity="0.521"/><stop offset="0.8125" stop-color="#ff6100" stop-opacity="0.469"/><stop offset="0.8333" stop-color="#ff6600" stop-opacity="0.417"/><stop offset="0.8542" stop-color="#ff6a00" stop-opacity="0.365"/><stop offset="0.8750" stop-color="#ff6e00" stop-opacity="0.312"/><stop offset="0.8958" stop-color="#ff7100" stop-opacity="0.260"/><stop offset="0.9167" stop-color="#ff7500" stop-opacity="0.208"/><stop offset="0.9375" stop-color="#ff7900" stop-opacity="0.156"/><stop offset="0.9583" stop-color="#ff7d00" stop-opacity="0.104"/><stop offset="0.9792" stop-color="#ff8100" stop-opacity="0.052"/><stop offset="1.0000" stop-color="#ff8500" stop-opacity="0.000"/></radialGradient>
<clipPath id="c9"><rect x="314.80" y="126.20" width="53.30" height="97.20"/></clipPath>
<radialGradient id="g21" gradientUnits="userSpaceOnUse" cx="0" cy="0" fx="0.00" fy="0" r="88.00" gradientTransform="translate(368.10 173.80) rotate(0.00) scale(1.0000 1.0000)"><stop offset="0.0000" stop-color="#adff00"/><stop offset="0.0208" stop-color="#adff00"/><stop offset="0.0417" stop-color="#adff00"/><stop offset="0.0625" stop-color="#adff00"/><stop offset="0.0833" stop-color="#adff00"/><stop offset="0.1042" stop-color="#adff00"/><stop offset="0.1250" stop-color="#adff00"/><stop offset="0.1458" stop-color="#adff00"/><stop offset="0.1591" stop-color="#adff00"/><stop offset="0.1667" stop-color="#abff00"/><stop offset="0.1875" stop-color="#a5ff00"/><stop offset="0.2083" stop-color="#9fff00"/><stop offset="0.2273" stop-color="#99ff00"/><stop offset="0.2292" stop-color="#98ff00"/><stop offset="0.2500" stop-color="#89ff00"/><stop offset="0.2708" stop-color="#7aff00"/><stop offset="0.2841" stop-color="#70ff00"/><stop offset="0.2917" stop-color="#66ff00"/><stop offset="0.3125" stop-color="#4aff00"/><stop offset="0.3295" stop-color="#33ff00"/><stop offset="0.3333" stop-color="#2eff00"/><stop offset="0.3542" stop-color="#13ff00"/><stop offset="0.3693" stop-color="#00ff00"/><stop offset="0.3750" stop-color="#00ff05"/><stop offset="0.3958" stop-color="#00ff19"/><stop offset="0.4167" stop-color="#00ff2d"/><stop offset="0.4375" stop-color="#00ff41"/><stop offset="0.4545" stop-color="#00ff52"/><stop offset="0.4583" stop-color="#00ff55"/><stop offset="0.4792" stop-color="#00ff6b"/><stop offset="0.5000" stop-color="#00ff80"/><stop offset="0.5208" stop-color="#00ff96"/><stop offset="0.5341" stop-color="#00ffa3"/><stop offset="0.5417" stop-color="#00ffaa"/><stop offset="0.5625" stop-color="#00ffbd"/><stop offset="0.5833" stop-color="#00ffcf"/><stop offset="0.6042" stop-color="#00ffe2"/><stop offset="0.6250" stop-color="#00fff5"/><stop offset="0.6458" stop-color="#00fffc"/><stop offset="0.6667" stop-color="#00fbff"/><stop offset="0.6875" stop-color="#00f4ff"/><stop offset="0.7083" stop-color="#00edff"/><stop offset="0.7159" stop-color="#00ebff"/><stop offset="0.7292" stop-color="#00e6ff"/><stop offset="0.7500" stop-color="#00dfff"/><stop offset="0.7708" stop-color="#00d9ff"/><stop offset="0.7917" stop-color="#00d2ff"/><stop offset="0.8125" stop-color="#00cbff"/><stop offset="0.8333" stop-color="#00c4ff"/><stop offset="0.8409" stop-color="#00c2ff"/><stop offset="0.8542" stop-color="#00c0ff"/><stop offset="0.8750" stop-color="#00bdff"/><stop offset="0.8958" stop-color="#00bbff"/><stop offset="0.9167" stop-color="#00b8ff"/><stop offset="0.9375" stop-color="#00b5ff"/><stop offset="0.9583" stop-color="#00b3ff"/><stop offset="0.9792" stop-color="#00b0ff"/><stop offset="1.0000" stop-color="#00adff"/></radialGradient>
<radialGradient id="g22" gradientUnits="userSpaceOnUse" cx="0" cy="0" fx="0.00" fy="0" r="18.00" gradientTransform="translate(354.70 176.50) rotate(0.00) scale(0.9000 1.2000)"><stop offset="0.0000" stop-color="#ff0000" stop-opacity="1.000"/><stop offset="0.0208" stop-color="#ff0000" stop-opacity="1.000"/><stop offset="0.0417" stop-color="#ff0000" stop-opacity="1.000"/><stop offset="0.0625" stop-color="#ff0000" stop-opacity="1.000"/><stop offset="0.0833" stop-color="#ff0000" stop-opacity="1.000"/><stop offset="0.1042" stop-color="#ff0000" stop-opacity="1.000"/><stop offset="0.1250" stop-color="#ff0000" stop-opacity="1.000"/><stop offset="0.1458" stop-color="#ff0000" stop-opacity="1.000"/><stop offset="0.1667" stop-color="#ff0000" stop-opacity="1.000"/><stop offset="0.1875" stop-color="#ff0f00" stop-opacity="1.000"/><stop offset="0.2083" stop-color="#ff1f00" stop-opacity="1.000"/><stop offset="0.2292" stop-color="#ff2e00" stop-opacity="1.000"/><stop offset="0.2500" stop-color="#ff3d00" stop-opacity="1.000"/><stop offset="0.2708" stop-color="#ff4c00" stop-opacity="1.000"/><stop offset="0.2917" stop-color="#ff5c00" stop-opacity="1.000"/><stop offset="0.3056" stop-color="#ff6600" stop-opacity="1.000"/><stop offset="0.3125" stop-color="#ff6c00" stop-opacity="1.000"/><stop offset="0.3333" stop-color="#ff8000" stop-opacity="1.000"/><stop offset="0.3542" stop-color="#ff9300" stop-opacity="1.000"/><stop offset="0.3750" stop-color="#ffa600" stop-opacity="1.000"/><stop offset="0.3958" stop-color="#ffb900" stop-opacity="1.000"/><stop offset="0.4167" stop-color="#ffcc00" stop-opacity="1.000"/><stop offset="0.4375" stop-color="#ffd900" stop-opacity="1.000"/><stop offset="0.4583" stop-color="#ffe500" stop-opacity="1.000"/><stop offset="0.4792" stop-color="#fff200" stop-opacity="1.000"/><stop offset="0.5000" stop-color="#ffff00" stop-opacity="1.000"/><stop offset="0.5208" stop-color="#f7ff00" stop-opacity="1.000"/><stop offset="0.5417" stop-color="#f0ff00" stop-opacity="1.000"/><stop offset="0.5625" stop-color="#e8ff00" stop-opacity="1.000"/><stop offset="0.5833" stop-color="#e0ff00" stop-opacity="1.000"/><stop offset="0.6042" stop-color="#d9ff00" stop-opacity="1.000"/><stop offset="0.6250" stop-color="#d1ff00" stop-opacity="1.000"/><stop offset="0.6458" stop-color="#c9ff00" stop-opacity="1.000"/><stop offset="0.6667" stop-color="#c2ff00" stop-opacity="1.000"/><stop offset="0.6875" stop-color="#beff00" stop-opacity="0.938"/><stop offset="0.7083" stop-color="#baff00" stop-opacity="0.875"/><stop offset="0.7292" stop-color="#b6ff00" stop-opacity="0.812"/><stop offset="0.7500" stop-color="#b3ff00" stop-opacity="0.750"/><stop offset="0.7708" stop-color="#afff00" stop-opacity="0.688"/><stop offset="0.7917" stop-color="#abff00" stop-opacity="0.625"/><stop offset="0.8125" stop-color="#a7ff00" stop-opacity="0.562"/><stop offset="0.8333" stop-color="#a3ff00" stop-opacity="0.500"/><stop offset="0.8542" stop-color="#a2ff00" stop-opacity="0.438"/><stop offset="0.8750" stop-color="#a1ff00" stop-opacity="0.375"/><stop offset="0.8958" stop-color="#9fff00" stop-opacity="0.312"/><stop offset="0.9167" stop-color="#9eff00" stop-opacity="0.250"/><stop offset="0.9375" stop-color="#9dff00" stop-opacity="0.188"/><stop offset="0.9583" stop-color="#9cff00" stop-opacity="0.125"/><stop offset="0.9792" stop-color="#9aff00" stop-opacity="0.062"/><stop offset="1.0000" stop-color="#99ff00" stop-opacity="0.000"/></radialGradient>
<linearGradient id="cb" gradientUnits="userSpaceOnUse" x1="0" x2="46.2" y1="0" y2="0"><stop offset="0" stop-color="#0000ff"/><stop offset="0.25" stop-color="#00ffff"/><stop offset="0.5" stop-color="#00ff00"/><stop offset="0.75" stop-color="#ffff00"/><stop offset="1" stop-color="#ff0000"/></linearGradient>
</defs>
<rect width="448" height="252" fill="#fff"/>
<g filter="url(#soft)">
<rect width="448" height="252" fill="#fff"/>
<g clip-path="url(#c0)"><rect x="78.60" y="5.40" width="53.30" height="96.80" fill="url(#g1)"/><rect x="78.60" y="5.40" width="53.30" height="96.80" fill="url(#g2)"/><rect x="125.50" y="51.30" width="8" height="6.7" fill="#ff1000"/><path d="M132.90,50.75 H124.80 M132.90,58.55 H124.80" fill="none" stroke="#fff" stroke-width="1.1"/><path d="M125.00,50.70 v1.3 M125.00,58.60 v-1.3" fill="none" stroke="#fff" stroke-width="0.9" stroke-opacity="0.8"/><path d="M123.90,50.70 q-2.4,1.9 -0.3,3.9 q-2.1,2.0 0.3,4.0" fill="none" stroke="#2a0000" stroke-width="1.0"/></g>
<text x="106.05" y="16.50" class="t" text-anchor="middle"><tspan font-style="italic">t</tspan> = 2 ms</text>
<rect x="0.00" y="111.90" width="46.20" height="4.1" fill="url(#cb)" transform="translate(82.70 0)"/>
<path d="M105.80,111.90 v1 M94.25,116.00 v-1 M117.35,116.00 v-1" stroke="#000" stroke-width="0.7" fill="none"/>
<text x="82.70" y="108.80" class="l" text-anchor="middle">0</text>
<text x="105.80" y="108.80" class="l" text-anchor="middle">8.9</text>
<text x="129.00" y="108.80" class="l" text-anchor="middle">18</text>
<text x="94.10" y="123.90" class="l" text-anchor="middle">4.4</text>
<text x="116.50" y="123.90" class="l" text-anchor="middle">13</text>
<g clip-path="url(#c1)"><rect x="137.65" y="5.40" width="53.30" height="96.80" fill="url(#g3)"/><rect x="137.65" y="5.40" width="53.30" height="96.80" fill="url(#g4)"/><rect x="137.65" y="5.40" width="53.30" height="96.80" fill="url(#g5)"/><path d="M183.25,50.10 C183.57,48.37 184.50,49.83 185.15,49.50 C185.80,49.17 186.78,48.60 187.15,48.10 C187.52,47.60 187.55,47.05 187.35,46.50 C187.15,45.95 186.60,45.23 185.95,44.80 C185.30,44.37 184.30,44.08 183.45,43.90 C182.60,43.72 181.77,43.62 180.85,43.70 C179.93,43.78 178.88,43.87 177.95,44.40 C177.02,44.93 176.03,45.78 175.25,46.90 C174.47,48.02 173.72,49.75 173.25,51.10 C172.78,52.45 172.45,53.70 172.45,55.00 C172.45,56.30 172.78,57.55 173.25,58.90 C173.72,60.25 174.47,61.98 175.25,63.10 C176.03,64.22 177.02,65.07 177.95,65.60 C178.88,66.13 179.93,66.22 180.85,66.30 C181.77,66.38 182.60,66.28 183.45,66.10 C184.30,65.92 185.30,65.63 185.95,65.20 C186.60,64.77 187.15,64.05 187.35,63.50 C187.55,62.95 187.52,62.40 187.15,61.90 C186.78,61.40 185.80,60.83 185.15,60.50 C184.50,60.17 183.57,61.63 183.25,59.90 C182.93,58.17 182.93,51.83 183.25,50.10Z" fill="none" stroke="#fff000" stroke-opacity="0.85" stroke-width="3.3" stroke-linejoin="round"/><path d="M183.25,50.10 C183.57,48.37 184.50,49.83 185.15,49.50 C185.80,49.17 186.78,48.60 187.15,48.10 C187.52,47.60 187.55,47.05 187.35,46.50 C187.15,45.95 186.60,45.23 185.95,44.80 C185.30,44.37 184.30,44.08 183.45,43.90 C182.60,43.72 181.77,43.62 180.85,43.70 C179.93,43.78 178.88,43.87 177.95,44.40 C177.02,44.93 176.03,45.78 175.25,46.90 C174.47,48.02 173.72,49.75 173.25,51.10 C172.78,52.45 172.45,53.70 172.45,55.00 C172.45,56.30 172.78,57.55 173.25,58.90 C173.72,60.25 174.47,61.98 175.25,63.10 C176.03,64.22 177.02,65.07 177.95,65.60 C178.88,66.13 179.93,66.22 180.85,66.30 C181.77,66.38 182.60,66.28 183.45,66.10 C184.30,65.92 185.30,65.63 185.95,65.20 C186.60,64.77 187.15,64.05 187.35,63.50 C187.55,62.95 187.52,62.40 187.15,61.90 C186.78,61.40 185.80,60.83 185.15,60.50 C184.50,60.17 183.57,61.63 183.25,59.90 C182.93,58.17 182.93,51.83 183.25,50.10Z" fill="#78eb1e" stroke="#1a3d00" stroke-width="0.90" stroke-linejoin="round"/><rect x="184.45" y="51.30" width="8" height="7.60" fill="#78eb1e"/><path d="M191.95,51.30 H183.85 M191.95,58.90 H183.85" fill="none" stroke="#fff" stroke-width="1.00" stroke-opacity="0.80"/><path d="M184.45,51.30 V58.90" fill="none" stroke="#fff" stroke-width="1.2" stroke-opacity="0.22"/></g>
<text x="165.10" y="16.10" class="t" text-anchor="middle"><tspan font-style="italic">t</tspan> = 10 ms</text>
<rect x="0.00" y="111.90" width="46.20" height="4.1" fill="url(#cb)" transform="translate(141.75 0)"/>
<path d="M164.85,111.90 v1 M153.30,116.00 v-1 M176.40,116.00 v-1" stroke="#000" stroke-width="0.7" fill="none"/>
<text x="141.75" y="108.80" class="l" text-anchor="middle">0</text>
<text x="164.75" y="108.80" class="l" text-anchor="middle">0.6</text>
<text x="187.25" y="108.80" class="l" text-anchor="middle">1.2</text>
<text x="152.95" y="123.90" class="l" text-anchor="middle">0.3</text>
<text x="175.75" y="123.90" class="l" text-anchor="middle">0.9</text>
<g clip-path="url(#c2)"><rect x="196.70" y="5.40" width="53.30" height="96.80" fill="url(#g6)"/><rect x="196.70" y="5.40" width="53.30" height="96.80" fill="url(#g7)"/><path d="M243.50,50.30 C244.00,48.63 245.85,49.13 246.50,48.30 C247.15,47.47 247.35,46.38 247.40,45.30 C247.45,44.22 247.28,42.80 246.80,41.80 C246.32,40.80 245.47,39.92 244.50,39.30 C243.53,38.68 242.25,38.23 241.00,38.10 C239.75,37.97 238.33,38.05 237.00,38.50 C235.67,38.95 234.25,39.75 233.00,40.80 C231.75,41.85 230.47,43.35 229.50,44.80 C228.53,46.25 227.70,47.92 227.20,49.50 C226.70,51.08 226.50,52.70 226.50,54.30 C226.50,55.90 226.70,57.52 227.20,59.10 C227.70,60.68 228.53,62.35 229.50,63.80 C230.47,65.25 231.75,66.75 233.00,67.80 C234.25,68.85 235.67,69.65 237.00,70.10 C238.33,70.55 239.75,70.63 241.00,70.50 C242.25,70.37 243.53,69.92 244.50,69.30 C245.47,68.68 246.32,67.80 246.80,66.80 C247.28,65.80 247.45,64.38 247.40,63.30 C247.35,62.22 247.15,61.13 246.50,60.30 C245.85,59.47 244.00,59.97 243.50,58.30 C243.00,56.63 243.00,51.97 243.50,50.30Z" fill="#1e6eff" stroke="#001050" stroke-width="0.90" stroke-linejoin="round"/><rect x="243.50" y="51.30" width="8" height="7.00" fill="#1e6eff"/><path d="M251.00,51.30 H242.90 M251.00,58.30 H242.90" fill="none" stroke="#fff" stroke-width="1.25" stroke-opacity="1.00"/><path d="M243.50,51.30 V58.30" fill="none" stroke="#fff" stroke-width="1.2" stroke-opacity="0.22"/></g>
<text x="224.15" y="16.10" class="t" text-anchor="middle"><tspan font-style="italic">t</tspan> = 20 ms</text>
<rect x="0.00" y="111.90" width="46.20" height="4.1" fill="url(#cb)" transform="translate(200.80 0)"/>
<path d="M223.90,111.90 v1 M212.35,116.00 v-1 M235.45,116.00 v-1" stroke="#000" stroke-width="0.7" fill="none"/>
<text x="203.30" y="108.80" class="l" text-anchor="middle">-0.4</text>
<text x="223.10" y="108.80" class="l" text-anchor="middle">-0.2</text>
<text x="245.10" y="108.80" class="l" text-anchor="middle">0</text>
<text x="211.80" y="123.90" class="l" text-anchor="middle">-0.3</text>
<text x="234.20" y="123.90" class="l" text-anchor="middle">-0.1</text>
<g clip-path="url(#c3)"><rect x="255.75" y="5.40" width="53.30" height="96.80" fill="url(#g8)"/><rect x="255.75" y="5.40" width="53.30" height="96.80" fill="url(#g9)"/><path d="M303.75,50.40 C304.15,48.35 305.68,47.48 306.15,46.00 C306.62,44.52 306.77,43.25 306.55,41.50 C306.33,39.75 305.63,37.00 304.85,35.50 C304.07,34.00 303.15,33.15 301.85,32.50 C300.55,31.85 298.72,31.63 297.05,31.60 C295.38,31.57 293.72,31.25 291.85,32.30 C289.98,33.35 287.65,35.97 285.85,37.90 C284.05,39.83 282.23,41.92 281.05,43.90 C279.87,45.88 279.28,48.07 278.75,49.80 C278.22,51.53 277.85,52.78 277.85,54.30 C277.85,55.82 278.22,57.14 278.75,58.91 C279.28,60.69 279.87,62.93 281.05,64.96 C282.23,66.99 284.05,69.13 285.85,71.11 C287.65,73.09 289.98,75.77 291.85,76.85 C293.72,77.93 295.38,77.60 297.05,77.57 C298.72,77.53 300.55,77.31 301.85,76.64 C303.15,75.98 304.07,75.11 304.85,73.57 C305.63,72.03 306.33,69.21 306.55,67.42 C306.77,65.63 306.62,64.33 306.15,62.81 C305.68,61.29 304.15,60.37 303.75,58.30 C303.35,56.23 303.35,52.45 303.75,50.40Z" fill="#1438ff" stroke="#00083c" stroke-width="0.90" stroke-linejoin="round"/><rect x="302.35" y="50.90" width="8" height="6.80" fill="#1438ff"/><path d="M310.05,50.90 H301.75 M310.05,57.70 H301.75" fill="none" stroke="#fff" stroke-width="1.25" stroke-opacity="1.00"/><path d="M302.35,50.90 V57.70" fill="none" stroke="#fff" stroke-width="1.2" stroke-opacity="0.22"/></g>
<text x="283.20" y="16.10" class="t" text-anchor="middle"><tspan font-style="italic">t</tspan> = 40 ms</text>
<rect x="0.00" y="111.90" width="46.20" height="4.1" fill="url(#cb)" transform="translate(259.85 0)"/>
<path d="M282.95,111.90 v1 M271.40,116.00 v-1 M294.50,116.00 v-1" stroke="#000" stroke-width="0.7" fill="none"/>
<text x="260.85" y="108.80" class="l" text-anchor="middle">-0.8</text>
<text x="282.25" y="108.80" class="l" text-anchor="middle">-0.4</text>
<text x="304.15" y="108.80" class="l" text-anchor="middle">0</text>
<text x="270.45" y="123.90" class="l" text-anchor="middle">-0.6</text>
<text x="293.55" y="123.90" class="l" text-anchor="middle">-0.2</text>
<g clip-path="url(#c4)"><rect x="314.80" y="5.40" width="53.30" height="96.80" fill="url(#g10)"/><rect x="314.80" y="5.40" width="53.30" height="96.80" fill="url(#g11)"/><rect x="314.80" y="5.40" width="53.30" height="96.80" fill="url(#g12)"/><path d="M362.60,50.40 C363.08,48.02 365.02,46.33 365.50,44.00 C365.98,41.67 365.72,38.65 365.50,36.40 C365.28,34.15 364.90,31.85 364.20,30.50 C363.50,29.15 362.40,28.73 361.30,28.30 C360.20,27.87 358.80,27.90 357.60,27.90 C356.40,27.90 355.88,27.75 354.10,28.30 C352.32,28.85 348.87,30.07 346.90,31.20 C344.93,32.33 343.93,33.37 342.30,35.10 C340.67,36.83 338.40,39.42 337.10,41.60 C335.80,43.78 335.07,46.08 334.50,48.20 C333.93,50.32 333.70,52.24 333.70,54.30 C333.70,56.36 333.93,58.37 334.50,60.53 C335.07,62.70 335.80,65.05 337.10,67.28 C338.40,69.51 340.67,72.15 342.30,73.92 C343.93,75.69 344.93,76.75 346.90,77.91 C348.87,79.07 352.32,80.31 354.10,80.87 C355.88,81.43 356.40,81.28 357.60,81.28 C358.80,81.28 360.20,81.31 361.30,80.87 C362.40,80.43 363.50,80.00 364.20,78.62 C364.90,77.24 365.28,74.89 365.50,72.59 C365.72,70.29 365.98,67.21 365.50,64.83 C365.02,62.44 363.08,60.69 362.60,58.29 C362.12,55.88 362.12,52.78 362.60,50.40Z" fill="#0a14ff" stroke="#00063c" stroke-width="0.90" stroke-linejoin="round"/><rect x="361.50" y="51.00" width="8" height="7.10" fill="#0a14ff"/><path d="M369.10,51.00 H360.90 M369.10,58.10 H360.90" fill="none" stroke="#fff" stroke-width="1.25" stroke-opacity="1.00"/><path d="M361.50,51.00 V58.10" fill="none" stroke="#fff" stroke-width="1.2" stroke-opacity="0.22"/></g>
<text x="342.25" y="16.10" class="t" text-anchor="middle"><tspan font-style="italic">t</tspan> = 60 ms</text>
<rect x="0.00" y="111.90" width="46.20" height="4.1" fill="url(#cb)" transform="translate(318.90 0)"/>
<path d="M342.00,111.90 v1 M330.45,116.00 v-1 M353.55,116.00 v-1" stroke="#000" stroke-width="0.7" fill="none"/>
<text x="319.90" y="108.80" class="l" text-anchor="middle">-0.8</text>
<text x="341.30" y="108.80" class="l" text-anchor="middle">-0.4</text>
<text x="363.20" y="108.80" class="l" text-anchor="middle">0</text>
<text x="329.50" y="123.90" class="l" text-anchor="middle">-0.6</text>
<text x="352.60" y="123.90" class="l" text-anchor="middle">-0.2</text>
<g clip-path="url(#c5)"><rect x="78.60" y="126.20" width="53.30" height="97.20" fill="url(#g13)"/><rect x="78.60" y="126.20" width="53.30" height="97.20" fill="url(#g14)"/><path d="M128.90,173.20 C129.05,170.91 129.65,169.53 129.80,166.80 C129.95,164.07 129.85,159.47 129.80,156.80 C129.75,154.13 129.63,152.03 129.50,150.80 C129.37,149.57 129.27,149.77 129.00,149.40 C128.73,149.03 128.50,148.77 127.90,148.60 C127.30,148.43 126.27,148.40 125.40,148.40 C124.53,148.40 124.13,148.25 122.70,148.60 C121.27,148.95 118.68,149.63 116.80,150.50 C114.92,151.37 113.27,152.58 111.40,153.80 C109.53,155.02 107.43,156.05 105.60,157.80 C103.77,159.55 101.70,162.18 100.40,164.30 C99.10,166.42 98.38,168.42 97.80,170.50 C97.22,172.58 96.90,174.66 96.90,176.80 C96.90,178.94 97.22,181.16 97.80,183.32 C98.38,185.48 99.10,187.55 100.40,189.74 C101.70,191.93 103.77,194.65 105.60,196.47 C107.43,198.28 109.53,199.35 111.40,200.61 C113.27,201.86 114.92,203.12 116.80,204.02 C118.68,204.92 121.27,205.62 122.70,205.99 C124.13,206.35 124.53,206.19 125.40,206.19 C126.27,206.19 127.30,206.16 127.90,205.99 C128.50,205.81 128.73,205.54 129.00,205.16 C129.27,204.78 129.37,204.99 129.50,203.71 C129.63,202.43 129.75,200.26 129.80,197.50 C129.85,194.74 129.95,189.98 129.80,187.15 C129.65,184.32 129.05,182.85 128.90,180.53 C128.75,178.20 128.75,175.49 128.90,173.20Z" fill="#0a10ff" stroke="#00063c" stroke-width="0.90" stroke-linejoin="round"/><rect x="125.00" y="173.60" width="8" height="6.40" fill="#0a10ff"/><path d="M132.90,173.60 H124.40 M132.90,180.00 H124.40" fill="none" stroke="#fff" stroke-width="1.25" stroke-opacity="1.00"/><path d="M125.00,173.60 V180.00" fill="none" stroke="#fff" stroke-width="1.2" stroke-opacity="0.22"/></g>
<text x="106.05" y="136.20" class="t" text-anchor="middle"><tspan font-style="italic">t</tspan> = 80 ms</text>
<rect x="0.00" y="233.90" width="46.20" height="4.1" fill="url(#cb)" transform="translate(82.70 0)"/>
<path d="M105.80,233.90 v1 M94.25,238.00 v-1 M117.35,238.00 v-1" stroke="#000" stroke-width="0.7" fill="none"/>
<text x="83.70" y="230.80" class="l" text-anchor="middle">-0.8</text>
<text x="105.10" y="230.80" class="l" text-anchor="middle">-0.4</text>
<text x="127.00" y="230.80" class="l" text-anchor="middle">0</text>
<text x="93.30" y="245.90" class="l" text-anchor="middle">-0.6</text>
<text x="116.40" y="245.90" class="l" text-anchor="middle">-0.2</text>
<g clip-path="url(#c6)"><rect x="137.65" y="126.20" width="53.30" height="97.20" fill="url(#g15)"/><rect x="137.65" y="126.20" width="53.30" height="97.20" fill="url(#g16)"/><path d="M188.45,173.20 C188.53,170.58 188.87,168.20 188.95,164.80 C189.03,161.40 189.05,155.72 188.95,152.80 C188.85,149.88 188.58,148.35 188.35,147.30 C188.12,146.25 187.95,146.53 187.55,146.50 C187.15,146.47 186.82,146.77 185.95,147.10 C185.08,147.43 183.93,147.77 182.35,148.50 C180.77,149.23 178.52,150.28 176.45,151.50 C174.38,152.72 172.13,154.00 169.95,155.80 C167.77,157.60 165.13,160.05 163.35,162.30 C161.57,164.55 160.15,166.88 159.25,169.30 C158.35,171.72 157.95,174.26 157.95,176.80 C157.95,179.34 158.35,182.04 159.25,184.53 C160.15,187.01 161.57,189.42 163.35,191.74 C165.13,194.05 167.77,196.58 169.95,198.43 C172.13,200.28 174.38,201.61 176.45,202.86 C178.52,204.11 180.77,205.19 182.35,205.95 C183.93,206.70 185.08,207.05 185.95,207.39 C186.82,207.73 187.15,208.04 187.55,208.01 C187.95,207.97 188.12,208.27 188.35,207.19 C188.58,206.10 188.85,204.52 188.95,201.52 C189.05,198.52 189.03,192.66 188.95,189.16 C188.87,185.66 188.53,183.17 188.45,180.51 C188.37,177.85 188.37,175.82 188.45,173.20Z" fill="#0a10ff" stroke="#00063c" stroke-width="0.90" stroke-linejoin="round"/><rect x="184.05" y="173.60" width="8" height="6.40" fill="#0a10ff"/><path d="M191.95,173.60 H183.45 M191.95,180.00 H183.45" fill="none" stroke="#fff" stroke-width="1.25" stroke-opacity="1.00"/><path d="M184.05,173.60 V180.00" fill="none" stroke="#fff" stroke-width="1.2" stroke-opacity="0.22"/></g>
<text x="165.10" y="136.20" class="t" text-anchor="middle"><tspan font-style="italic">t</tspan> = 100 ms</text>
<rect x="0.00" y="233.90" width="46.20" height="4.1" fill="url(#cb)" transform="translate(141.75 0)"/>
<path d="M164.85,233.90 v1 M153.30,238.00 v-1 M176.40,238.00 v-1" stroke="#000" stroke-width="0.7" fill="none"/>
<text x="142.75" y="230.80" class="l" text-anchor="middle">-0.8</text>
<text x="164.15" y="230.80" class="l" text-anchor="middle">-0.4</text>
<text x="186.05" y="230.80" class="l" text-anchor="middle">0</text>
<text x="152.35" y="245.90" class="l" text-anchor="middle">-0.6</text>
<text x="175.45" y="245.90" class="l" text-anchor="middle">-0.2</text>
<g clip-path="url(#c7)"><rect x="196.70" y="126.20" width="53.30" height="97.20" fill="url(#g17)"/><path d="M247.70,173.20 C247.82,170.59 248.28,168.20 248.40,164.80 C248.52,161.40 248.47,155.80 248.40,152.80 C248.33,149.80 248.20,147.97 248.00,146.80 C247.80,145.63 247.53,145.83 247.20,145.80 C246.87,145.77 246.65,146.10 246.00,146.60 C245.35,147.10 244.27,147.93 243.30,148.80 C242.33,149.67 241.62,150.63 240.20,151.80 C238.78,152.97 236.92,154.05 234.80,155.80 C232.68,157.55 229.40,160.05 227.50,162.30 C225.60,164.55 224.30,166.88 223.40,169.30 C222.50,171.72 222.10,174.28 222.10,176.80 C222.10,179.33 222.50,181.99 223.40,184.45 C224.30,186.92 225.60,189.30 227.50,191.59 C229.40,193.88 232.68,196.44 234.80,198.22 C236.92,200.01 238.78,201.11 240.20,202.30 C241.62,203.49 242.33,204.48 243.30,205.36 C244.27,206.24 245.35,207.09 246.00,207.60 C246.65,208.11 246.87,208.45 247.20,208.42 C247.53,208.39 247.80,208.59 248.00,207.40 C248.20,206.21 248.33,204.34 248.40,201.28 C248.47,198.22 248.52,192.51 248.40,189.04 C248.28,185.57 247.82,183.11 247.70,180.47 C247.58,177.83 247.58,175.81 247.70,173.20Z" fill="#0a10ff" stroke="#00063c" stroke-width="0.90" stroke-linejoin="round"/><rect x="243.10" y="173.60" width="8" height="6.40" fill="#0a10ff"/><path d="M251.00,173.60 H242.50 M251.00,180.00 H242.50" fill="none" stroke="#fff" stroke-width="1.25" stroke-opacity="1.00"/><path d="M243.10,173.60 V180.00" fill="none" stroke="#fff" stroke-width="1.2" stroke-opacity="0.22"/></g>
<text x="224.15" y="136.20" class="t" text-anchor="middle"><tspan font-style="italic">t</tspan> = 120 ms</text>
<rect x="0.00" y="233.90" width="46.20" height="4.1" fill="url(#cb)" transform="translate(200.80 0)"/>
<path d="M223.90,233.90 v1 M212.35,238.00 v-1 M235.45,238.00 v-1" stroke="#000" stroke-width="0.7" fill="none"/>
<text x="203.10" y="230.80" class="l" text-anchor="middle">-0.7</text>
<text x="223.70" y="230.80" class="l" text-anchor="middle">-0.3</text>
<text x="245.10" y="230.80" class="l" text-anchor="middle">0</text>
<text x="212.60" y="245.90" class="l" text-anchor="middle">-0.5</text>
<text x="234.30" y="245.90" class="l" text-anchor="middle">-0.1</text>
<g clip-path="url(#c8)"><rect x="255.75" y="126.20" width="53.30" height="97.20" fill="url(#g18)"/><rect x="255.75" y="126.20" width="53.30" height="97.20" fill="url(#g19)"/><rect x="255.75" y="126.20" width="53.30" height="97.20" fill="url(#g20)"/><path d="M306.75,173.20 C306.90,170.60 307.47,167.87 307.65,164.80 C307.83,161.73 307.88,157.30 307.85,154.80 C307.82,152.30 307.68,150.95 307.45,149.80 C307.22,148.65 306.73,147.73 306.45,147.90 C306.17,148.07 306.07,149.90 305.75,150.80 C305.43,151.70 305.08,152.52 304.55,153.30 C304.02,154.08 303.95,154.05 302.55,155.50 C301.15,156.95 297.78,159.78 296.15,162.00 C294.52,164.22 293.58,166.33 292.75,168.80 C291.92,171.27 291.15,174.13 291.15,176.80 C291.15,179.47 291.92,182.33 292.75,184.80 C293.58,187.27 294.52,189.38 296.15,191.60 C297.78,193.82 301.15,196.65 302.55,198.10 C303.95,199.55 304.02,199.52 304.55,200.30 C305.08,201.08 305.43,201.90 305.75,202.80 C306.07,203.70 306.17,205.53 306.45,205.70 C306.73,205.87 307.22,204.95 307.45,203.80 C307.68,202.65 307.82,201.30 307.85,198.80 C307.88,196.30 307.83,191.87 307.65,188.80 C307.47,185.73 306.90,183.00 306.75,180.40 C306.60,177.80 306.60,175.80 306.75,173.20Z" fill="none" stroke="#00ffc0" stroke-opacity="0.55" stroke-width="3.4" stroke-linejoin="round"/><path d="M306.75,173.20 C306.90,170.60 307.47,167.87 307.65,164.80 C307.83,161.73 307.88,157.30 307.85,154.80 C307.82,152.30 307.68,150.95 307.45,149.80 C307.22,148.65 306.73,147.73 306.45,147.90 C306.17,148.07 306.07,149.90 305.75,150.80 C305.43,151.70 305.08,152.52 304.55,153.30 C304.02,154.08 303.95,154.05 302.55,155.50 C301.15,156.95 297.78,159.78 296.15,162.00 C294.52,164.22 293.58,166.33 292.75,168.80 C291.92,171.27 291.15,174.13 291.15,176.80 C291.15,179.47 291.92,182.33 292.75,184.80 C293.58,187.27 294.52,189.38 296.15,191.60 C297.78,193.82 301.15,196.65 302.55,198.10 C303.95,199.55 304.02,199.52 304.55,200.30 C305.08,201.08 305.43,201.90 305.75,202.80 C306.07,203.70 306.17,205.53 306.45,205.70 C306.73,205.87 307.22,204.95 307.45,203.80 C307.68,202.65 307.82,201.30 307.85,198.80 C307.88,196.30 307.83,191.87 307.65,188.80 C307.47,185.73 306.90,183.00 306.75,180.40 C306.60,177.80 306.60,175.80 306.75,173.20Z" fill="none" stroke="#00c8ff" stroke-opacity="0.7" stroke-width="1.8" stroke-linejoin="round"/><path d="M306.75,173.20 C306.90,170.60 307.47,167.87 307.65,164.80 C307.83,161.73 307.88,157.30 307.85,154.80 C307.82,152.30 307.68,150.95 307.45,149.80 C307.22,148.65 306.73,147.73 306.45,147.90 C306.17,148.07 306.07,149.90 305.75,150.80 C305.43,151.70 305.08,152.52 304.55,153.30 C304.02,154.08 303.95,154.05 302.55,155.50 C301.15,156.95 297.78,159.78 296.15,162.00 C294.52,164.22 293.58,166.33 292.75,168.80 C291.92,171.27 291.15,174.13 291.15,176.80 C291.15,179.47 291.92,182.33 292.75,184.80 C293.58,187.27 294.52,189.38 296.15,191.60 C297.78,193.82 301.15,196.65 302.55,198.10 C303.95,199.55 304.02,199.52 304.55,200.30 C305.08,201.08 305.43,201.90 305.75,202.80 C306.07,203.70 306.17,205.53 306.45,205.70 C306.73,205.87 307.22,204.95 307.45,203.80 C307.68,202.65 307.82,201.30 307.85,198.80 C307.88,196.30 307.83,191.87 307.65,188.80 C307.47,185.73 306.90,183.00 306.75,180.40 C306.60,177.80 306.60,175.80 306.75,173.20Z" fill="#1474ff" stroke="#000a30" stroke-width="1.05" stroke-linejoin="round"/><rect x="302.15" y="173.60" width="8" height="6.40" fill="#0a40ff"/><path d="M310.05,173.60 H301.55 M310.05,180.00 H301.55" fill="none" stroke="#fff" stroke-width="1.25" stroke-opacity="1.00"/><path d="M302.15,173.60 V180.00" fill="none" stroke="#fff" stroke-width="1.2" stroke-opacity="0.22"/></g>
<text x="283.20" y="136.20" class="t" text-anchor="middle"><tspan font-style="italic">t</tspan> = 140 ms</text>
<rect x="0.00" y="233.90" width="46.20" height="4.1" fill="url(#cb)" transform="translate(259.85 0)"/>
<path d="M282.95,233.90 v1 M271.40,238.00 v-1 M294.50,238.00 v-1" stroke="#000" stroke-width="0.7" fill="none"/>
<text x="260.05" y="230.80" class="l" text-anchor="middle">0</text>
<text x="282.95" y="230.80" class="l" text-anchor="middle">0.3</text>
<text x="304.95" y="230.80" class="l" text-anchor="middle">0.6</text>
<text x="270.95" y="245.90" class="l" text-anchor="middle">0.1</text>
<text x="293.75" y="245.90" class="l" text-anchor="middle">0.4</text>
<g clip-path="url(#c9)"><rect x="314.80" y="126.20" width="53.30" height="97.20" fill="url(#g21)"/><rect x="314.80" y="126.20" width="53.30" height="97.20" fill="url(#g22)"/><path d="M361.90,173.60 C362.23,172.35 363.33,173.02 363.90,172.50 C364.47,171.98 364.83,171.62 365.30,170.50 C365.77,169.38 366.40,167.42 366.70,165.80 C367.00,164.18 367.23,162.30 367.10,160.80 C366.97,159.30 366.33,157.53 365.90,156.80 C365.47,156.07 365.00,156.23 364.50,156.40 C364.00,156.57 363.45,157.07 362.90,157.80 C362.35,158.53 361.80,159.68 361.20,160.80 C360.60,161.92 359.83,163.35 359.30,164.50 C358.77,165.65 358.30,166.68 358.00,167.70 C357.70,168.72 357.47,169.50 357.50,170.60 C357.53,171.70 357.92,173.27 358.20,174.30 C358.48,175.33 359.20,175.97 359.20,176.80 C359.20,177.63 358.48,178.27 358.20,179.30 C357.92,180.33 357.53,181.90 357.50,183.00 C357.47,184.10 357.70,184.88 358.00,185.90 C358.30,186.92 358.77,187.95 359.30,189.10 C359.83,190.25 360.60,191.68 361.20,192.80 C361.80,193.92 362.35,195.07 362.90,195.80 C363.45,196.53 364.00,197.03 364.50,197.20 C365.00,197.37 365.47,197.53 365.90,196.80 C366.33,196.07 366.97,194.30 367.10,192.80 C367.23,191.30 367.00,189.42 366.70,187.80 C366.40,186.18 365.77,184.22 365.30,183.10 C364.83,181.98 364.47,181.62 363.90,181.10 C363.33,180.58 362.23,181.25 361.90,180.00 C361.57,178.75 361.57,174.85 361.90,173.60Z" fill="#c8ff00" stroke="#3c4600" stroke-width="0.90" stroke-linejoin="round"/><rect x="361.20" y="173.60" width="8" height="6.40" fill="#c8ff00"/><path d="M369.10,173.60 H360.60 M369.10,180.00 H360.60" fill="none" stroke="#fff" stroke-width="1.25" stroke-opacity="1.00"/><path d="M361.20,173.60 V180.00" fill="none" stroke="#fff" stroke-width="1.2" stroke-opacity="0.22"/><circle cx="365.40" cy="149.10" r="0.75" fill="#001400"/><circle cx="365.50" cy="205.10" r="0.75" fill="#001400"/></g>
<text x="342.25" y="136.20" class="t" text-anchor="middle"><tspan font-style="italic">t</tspan> = 146 ms</text>
<rect x="0.00" y="233.90" width="46.20" height="4.1" fill="url(#cb)" transform="translate(318.90 0)"/>
<path d="M342.00,233.90 v1 M330.45,238.00 v-1 M353.55,238.00 v-1" stroke="#000" stroke-width="0.7" fill="none"/>
<text x="319.40" y="230.80" class="l" text-anchor="middle">0</text>
<text x="341.90" y="230.80" class="l" text-anchor="middle">1.7</text>
<text x="364.70" y="230.80" class="l" text-anchor="middle">3.4</text>
<text x="330.20" y="245.90" class="l" text-anchor="middle">0.9</text>
<text x="353.20" y="245.90" class="l" text-anchor="middle">2.6</text>
</g>
</svg>
</body></html>
